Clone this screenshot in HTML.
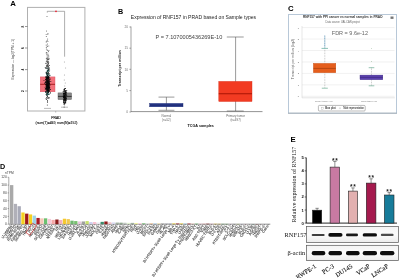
<!DOCTYPE html>
<html><head><meta charset="utf-8"><style>
html,body{margin:0;padding:0;background:#fff;}
svg{display:block;will-change:transform;}
</style></head><body>
<svg width="400" height="278" viewBox="0 0 400 278">
<rect width="400" height="278" fill="#fff"/>
<text x="10.3" y="6.3" font-family="Liberation Sans, sans-serif" font-weight="bold" font-size="7.8">A</text>
<rect x="27.5" y="7.4" width="57.4" height="103.6" fill="none" stroke="#b0b0b0" stroke-width="1"/>
<line x1="55.7" y1="111" x2="55.7" y2="112.6" stroke="#888" stroke-width="0.5"/>
<line x1="25" y1="26.5" x2="27.5" y2="26.5" stroke="#555" stroke-width="0.6"/>
<text transform="translate(23.6,26.5) rotate(-90)" text-anchor="middle" font-family="Liberation Sans, sans-serif" font-weight="bold" font-size="3.2" fill="#222">8</text>
<line x1="25" y1="48" x2="27.5" y2="48" stroke="#555" stroke-width="0.6"/>
<text transform="translate(23.6,48) rotate(-90)" text-anchor="middle" font-family="Liberation Sans, sans-serif" font-weight="bold" font-size="3.2" fill="#222">6</text>
<line x1="25" y1="69.6" x2="27.5" y2="69.6" stroke="#555" stroke-width="0.6"/>
<text transform="translate(23.6,69.6) rotate(-90)" text-anchor="middle" font-family="Liberation Sans, sans-serif" font-weight="bold" font-size="3.2" fill="#222">4</text>
<line x1="25" y1="91" x2="27.5" y2="91" stroke="#555" stroke-width="0.6"/>
<text transform="translate(23.6,91) rotate(-90)" text-anchor="middle" font-family="Liberation Sans, sans-serif" font-weight="bold" font-size="3.2" fill="#222">2</text>
<text transform="translate(13.6,59.2) rotate(-90)" text-anchor="middle" font-family="Liberation Sans, sans-serif" font-size="3.15" fill="#333">Expression — log2(TPM + 1)</text>
<polyline points="47.3,12.6 47.3,11.3 64.6,11.3 64.6,56.7" fill="none" stroke="#777" stroke-width="0.6"/>
<circle cx="56" cy="11.3" r="0.9" fill="#e23"/>
<rect x="40.2" y="76.9" width="14.8" height="14.9" fill="#f2707a" stroke="#d85060" stroke-width="0.4"/>
<line x1="40.2" y1="84.3" x2="55" y2="84.3" stroke="#a01818" stroke-width="0.9"/>
<line x1="44" y1="108.4" x2="51" y2="108.4" stroke="#777" stroke-width="0.5"/>
<rect x="58" y="92.9" width="13.6" height="6.7" fill="#888" stroke="#555" stroke-width="0.4"/>
<line x1="58" y1="96.4" x2="71.6" y2="96.4" stroke="#222" stroke-width="0.8"/>
<line x1="61" y1="107.2" x2="68" y2="107.2" stroke="#777" stroke-width="0.5"/>
<circle cx="47.01" cy="16.50" r="0.5" fill="#444" fill-opacity="0.85"/>
<circle cx="46.52" cy="31.00" r="0.5" fill="#444" fill-opacity="0.85"/>
<circle cx="47.92" cy="33.50" r="0.5" fill="#444" fill-opacity="0.85"/>
<circle cx="46.30" cy="36.50" r="0.5" fill="#444" fill-opacity="0.85"/>
<circle cx="47.60" cy="39.00" r="0.5" fill="#444" fill-opacity="0.85"/>
<circle cx="47.12" cy="40.50" r="0.5" fill="#444" fill-opacity="0.85"/>
<circle cx="46.26" cy="42.00" r="0.5" fill="#444" fill-opacity="0.85"/>
<circle cx="47.52" cy="44.00" r="0.5" fill="#444" fill-opacity="0.85"/>
<circle cx="46.20" cy="45.00" r="0.5" fill="#444" fill-opacity="0.85"/>
<circle cx="47.31" cy="46.50" r="0.5" fill="#444" fill-opacity="0.85"/>
<circle cx="46.30" cy="47.50" r="0.5" fill="#444" fill-opacity="0.85"/>
<circle cx="46.35" cy="49.00" r="0.5" fill="#444" fill-opacity="0.85"/>
<circle cx="47.29" cy="50.00" r="0.5" fill="#444" fill-opacity="0.85"/>
<circle cx="48.42" cy="51.50" r="0.5" fill="#444" fill-opacity="0.85"/>
<circle cx="46.45" cy="52.50" r="0.5" fill="#444" fill-opacity="0.85"/>
<circle cx="46.73" cy="54.00" r="0.5" fill="#444" fill-opacity="0.85"/>
<circle cx="47.86" cy="55.00" r="0.5" fill="#444" fill-opacity="0.85"/>
<circle cx="48.75" cy="56.00" r="0.5" fill="#444" fill-opacity="0.85"/>
<circle cx="47.72" cy="57.00" r="0.5" fill="#444" fill-opacity="0.85"/>
<circle cx="47.21" cy="58.50" r="0.5" fill="#444" fill-opacity="0.85"/>
<circle cx="48.83" cy="59.50" r="0.5" fill="#444" fill-opacity="0.85"/>
<circle cx="47.92" cy="89.14" r="0.5" fill="#0a0a0a" fill-opacity="0.85"/>
<circle cx="46.91" cy="87.55" r="0.5" fill="#0a0a0a" fill-opacity="0.85"/>
<circle cx="46.60" cy="99.46" r="0.5" fill="#0a0a0a" fill-opacity="0.85"/>
<circle cx="46.68" cy="77.70" r="0.5" fill="#0a0a0a" fill-opacity="0.85"/>
<circle cx="48.26" cy="92.15" r="0.5" fill="#0a0a0a" fill-opacity="0.85"/>
<circle cx="46.78" cy="86.24" r="0.5" fill="#0a0a0a" fill-opacity="0.85"/>
<circle cx="46.61" cy="87.43" r="0.5" fill="#0a0a0a" fill-opacity="0.85"/>
<circle cx="47.03" cy="78.94" r="0.5" fill="#0a0a0a" fill-opacity="0.85"/>
<circle cx="48.97" cy="84.44" r="0.5" fill="#0a0a0a" fill-opacity="0.85"/>
<circle cx="47.26" cy="65.87" r="0.5" fill="#0a0a0a" fill-opacity="0.85"/>
<circle cx="46.74" cy="83.04" r="0.5" fill="#0a0a0a" fill-opacity="0.85"/>
<circle cx="47.53" cy="88.48" r="0.5" fill="#0a0a0a" fill-opacity="0.85"/>
<circle cx="48.47" cy="70.82" r="0.5" fill="#1f5a55" fill-opacity="0.85"/>
<circle cx="47.62" cy="81.46" r="0.5" fill="#0a0a0a" fill-opacity="0.85"/>
<circle cx="46.04" cy="76.48" r="0.5" fill="#0a0a0a" fill-opacity="0.85"/>
<circle cx="46.96" cy="89.54" r="0.5" fill="#0a0a0a" fill-opacity="0.85"/>
<circle cx="46.27" cy="79.93" r="0.5" fill="#0a0a0a" fill-opacity="0.85"/>
<circle cx="47.04" cy="75.29" r="0.5" fill="#0a0a0a" fill-opacity="0.85"/>
<circle cx="47.29" cy="93.59" r="0.5" fill="#1f5a55" fill-opacity="0.85"/>
<circle cx="46.15" cy="80.10" r="0.5" fill="#0a0a0a" fill-opacity="0.85"/>
<circle cx="47.54" cy="100.70" r="0.5" fill="#0a0a0a" fill-opacity="0.85"/>
<circle cx="48.63" cy="73.92" r="0.5" fill="#1f5a55" fill-opacity="0.85"/>
<circle cx="47.75" cy="78.70" r="0.5" fill="#0a0a0a" fill-opacity="0.85"/>
<circle cx="47.85" cy="86.33" r="0.5" fill="#0a0a0a" fill-opacity="0.85"/>
<circle cx="47.05" cy="84.54" r="0.5" fill="#0a0a0a" fill-opacity="0.85"/>
<circle cx="48.65" cy="84.13" r="0.5" fill="#0a0a0a" fill-opacity="0.85"/>
<circle cx="47.29" cy="86.55" r="0.5" fill="#0a0a0a" fill-opacity="0.85"/>
<circle cx="48.02" cy="73.21" r="0.5" fill="#0a0a0a" fill-opacity="0.85"/>
<circle cx="45.70" cy="91.58" r="0.5" fill="#1f5a55" fill-opacity="0.85"/>
<circle cx="48.10" cy="76.69" r="0.5" fill="#0a0a0a" fill-opacity="0.85"/>
<circle cx="47.44" cy="88.97" r="0.5" fill="#0a0a0a" fill-opacity="0.85"/>
<circle cx="48.28" cy="86.92" r="0.5" fill="#0a0a0a" fill-opacity="0.85"/>
<circle cx="48.80" cy="85.08" r="0.5" fill="#0a0a0a" fill-opacity="0.85"/>
<circle cx="47.16" cy="78.05" r="0.5" fill="#0a0a0a" fill-opacity="0.85"/>
<circle cx="47.62" cy="93.38" r="0.5" fill="#0a0a0a" fill-opacity="0.85"/>
<circle cx="46.43" cy="80.00" r="0.5" fill="#0a0a0a" fill-opacity="0.85"/>
<circle cx="49.72" cy="74.90" r="0.5" fill="#0a0a0a" fill-opacity="0.85"/>
<circle cx="48.92" cy="90.42" r="0.5" fill="#0a0a0a" fill-opacity="0.85"/>
<circle cx="46.77" cy="72.59" r="0.5" fill="#1f5a55" fill-opacity="0.85"/>
<circle cx="47.35" cy="89.68" r="0.5" fill="#0a0a0a" fill-opacity="0.85"/>
<circle cx="48.26" cy="81.59" r="0.5" fill="#0a0a0a" fill-opacity="0.85"/>
<circle cx="48.10" cy="86.53" r="0.5" fill="#0a0a0a" fill-opacity="0.85"/>
<circle cx="47.62" cy="90.99" r="0.5" fill="#0a0a0a" fill-opacity="0.85"/>
<circle cx="47.88" cy="84.06" r="0.5" fill="#0a0a0a" fill-opacity="0.85"/>
<circle cx="47.44" cy="87.39" r="0.5" fill="#0a0a0a" fill-opacity="0.85"/>
<circle cx="48.62" cy="85.55" r="0.5" fill="#0a0a0a" fill-opacity="0.85"/>
<circle cx="48.08" cy="75.18" r="0.5" fill="#1f5a55" fill-opacity="0.85"/>
<circle cx="47.25" cy="89.51" r="0.5" fill="#0a0a0a" fill-opacity="0.85"/>
<circle cx="49.53" cy="87.47" r="0.5" fill="#0a0a0a" fill-opacity="0.85"/>
<circle cx="46.42" cy="60.92" r="0.5" fill="#0a0a0a" fill-opacity="0.85"/>
<circle cx="48.02" cy="86.20" r="0.5" fill="#0a0a0a" fill-opacity="0.85"/>
<circle cx="47.15" cy="86.15" r="0.5" fill="#0a0a0a" fill-opacity="0.85"/>
<circle cx="47.90" cy="89.90" r="0.5" fill="#0a0a0a" fill-opacity="0.85"/>
<circle cx="50.15" cy="79.30" r="0.5" fill="#0a0a0a" fill-opacity="0.85"/>
<circle cx="47.02" cy="87.20" r="0.5" fill="#0a0a0a" fill-opacity="0.85"/>
<circle cx="47.36" cy="83.10" r="0.5" fill="#0a0a0a" fill-opacity="0.85"/>
<circle cx="44.74" cy="83.44" r="0.5" fill="#0a0a0a" fill-opacity="0.85"/>
<circle cx="48.66" cy="79.62" r="0.5" fill="#0a0a0a" fill-opacity="0.85"/>
<circle cx="47.53" cy="73.48" r="0.5" fill="#1f5a55" fill-opacity="0.85"/>
<circle cx="45.81" cy="92.58" r="0.5" fill="#1f5a55" fill-opacity="0.85"/>
<circle cx="47.92" cy="80.82" r="0.5" fill="#0a0a0a" fill-opacity="0.85"/>
<circle cx="47.55" cy="70.97" r="0.5" fill="#0a0a0a" fill-opacity="0.85"/>
<circle cx="47.44" cy="77.56" r="0.5" fill="#0a0a0a" fill-opacity="0.85"/>
<circle cx="48.44" cy="85.72" r="0.5" fill="#0a0a0a" fill-opacity="0.85"/>
<circle cx="47.51" cy="85.27" r="0.5" fill="#0a0a0a" fill-opacity="0.85"/>
<circle cx="48.40" cy="63.99" r="0.5" fill="#0a0a0a" fill-opacity="0.85"/>
<circle cx="47.74" cy="82.32" r="0.5" fill="#0a0a0a" fill-opacity="0.85"/>
<circle cx="47.83" cy="90.35" r="0.5" fill="#0a0a0a" fill-opacity="0.85"/>
<circle cx="46.00" cy="89.75" r="0.5" fill="#0a0a0a" fill-opacity="0.85"/>
<circle cx="48.25" cy="70.41" r="0.5" fill="#0a0a0a" fill-opacity="0.85"/>
<circle cx="47.74" cy="75.33" r="0.5" fill="#0a0a0a" fill-opacity="0.85"/>
<circle cx="49.15" cy="80.39" r="0.5" fill="#0a0a0a" fill-opacity="0.85"/>
<circle cx="47.60" cy="75.56" r="0.5" fill="#1f5a55" fill-opacity="0.85"/>
<circle cx="47.83" cy="73.74" r="0.5" fill="#0a0a0a" fill-opacity="0.85"/>
<circle cx="48.64" cy="76.15" r="0.5" fill="#1f5a55" fill-opacity="0.85"/>
<circle cx="49.19" cy="82.40" r="0.5" fill="#0a0a0a" fill-opacity="0.85"/>
<circle cx="47.86" cy="79.26" r="0.5" fill="#0a0a0a" fill-opacity="0.85"/>
<circle cx="48.93" cy="88.11" r="0.5" fill="#0a0a0a" fill-opacity="0.85"/>
<circle cx="48.67" cy="77.30" r="0.5" fill="#0a0a0a" fill-opacity="0.85"/>
<circle cx="47.73" cy="85.04" r="0.5" fill="#0a0a0a" fill-opacity="0.85"/>
<circle cx="48.62" cy="81.63" r="0.5" fill="#0a0a0a" fill-opacity="0.85"/>
<circle cx="48.96" cy="80.11" r="0.5" fill="#0a0a0a" fill-opacity="0.85"/>
<circle cx="47.79" cy="71.85" r="0.5" fill="#1f5a55" fill-opacity="0.85"/>
<circle cx="47.68" cy="90.65" r="0.5" fill="#0a0a0a" fill-opacity="0.85"/>
<circle cx="47.23" cy="95.94" r="0.5" fill="#0a0a0a" fill-opacity="0.85"/>
<circle cx="46.89" cy="86.32" r="0.5" fill="#0a0a0a" fill-opacity="0.85"/>
<circle cx="45.63" cy="91.92" r="0.5" fill="#0a0a0a" fill-opacity="0.85"/>
<circle cx="48.68" cy="74.25" r="0.5" fill="#0a0a0a" fill-opacity="0.85"/>
<circle cx="47.40" cy="78.75" r="0.5" fill="#0a0a0a" fill-opacity="0.85"/>
<circle cx="46.98" cy="83.74" r="0.5" fill="#0a0a0a" fill-opacity="0.85"/>
<circle cx="49.48" cy="86.10" r="0.5" fill="#0a0a0a" fill-opacity="0.85"/>
<circle cx="48.16" cy="84.40" r="0.5" fill="#0a0a0a" fill-opacity="0.85"/>
<circle cx="46.93" cy="93.00" r="0.5" fill="#0a0a0a" fill-opacity="0.85"/>
<circle cx="45.87" cy="81.22" r="0.5" fill="#0a0a0a" fill-opacity="0.85"/>
<circle cx="48.66" cy="78.62" r="0.5" fill="#0a0a0a" fill-opacity="0.85"/>
<circle cx="47.61" cy="91.13" r="0.5" fill="#0a0a0a" fill-opacity="0.85"/>
<circle cx="46.25" cy="91.25" r="0.5" fill="#0a0a0a" fill-opacity="0.85"/>
<circle cx="48.57" cy="83.44" r="0.5" fill="#0a0a0a" fill-opacity="0.85"/>
<circle cx="46.65" cy="78.91" r="0.5" fill="#0a0a0a" fill-opacity="0.85"/>
<circle cx="45.99" cy="77.06" r="0.5" fill="#0a0a0a" fill-opacity="0.85"/>
<circle cx="46.36" cy="82.94" r="0.5" fill="#0a0a0a" fill-opacity="0.85"/>
<circle cx="45.12" cy="87.28" r="0.5" fill="#0a0a0a" fill-opacity="0.85"/>
<circle cx="46.93" cy="86.95" r="0.5" fill="#0a0a0a" fill-opacity="0.85"/>
<circle cx="48.36" cy="66.52" r="0.5" fill="#0a0a0a" fill-opacity="0.85"/>
<circle cx="49.48" cy="81.52" r="0.5" fill="#0a0a0a" fill-opacity="0.85"/>
<circle cx="47.95" cy="77.99" r="0.5" fill="#0a0a0a" fill-opacity="0.85"/>
<circle cx="47.22" cy="87.48" r="0.5" fill="#0a0a0a" fill-opacity="0.85"/>
<circle cx="47.62" cy="85.24" r="0.5" fill="#0a0a0a" fill-opacity="0.85"/>
<circle cx="46.71" cy="87.50" r="0.5" fill="#0a0a0a" fill-opacity="0.85"/>
<circle cx="48.09" cy="70.22" r="0.5" fill="#0a0a0a" fill-opacity="0.85"/>
<circle cx="47.29" cy="80.86" r="0.5" fill="#0a0a0a" fill-opacity="0.85"/>
<circle cx="49.64" cy="79.77" r="0.5" fill="#0a0a0a" fill-opacity="0.85"/>
<circle cx="48.09" cy="68.18" r="0.5" fill="#1f5a55" fill-opacity="0.85"/>
<circle cx="47.50" cy="100.98" r="0.5" fill="#0a0a0a" fill-opacity="0.85"/>
<circle cx="48.13" cy="74.15" r="0.5" fill="#1f5a55" fill-opacity="0.85"/>
<circle cx="48.47" cy="86.64" r="0.5" fill="#0a0a0a" fill-opacity="0.85"/>
<circle cx="47.39" cy="83.69" r="0.5" fill="#0a0a0a" fill-opacity="0.85"/>
<circle cx="47.22" cy="74.86" r="0.5" fill="#1f5a55" fill-opacity="0.85"/>
<circle cx="48.88" cy="77.83" r="0.5" fill="#0a0a0a" fill-opacity="0.85"/>
<circle cx="47.57" cy="80.73" r="0.5" fill="#0a0a0a" fill-opacity="0.85"/>
<circle cx="48.25" cy="82.52" r="0.5" fill="#0a0a0a" fill-opacity="0.85"/>
<circle cx="49.37" cy="88.33" r="0.5" fill="#0a0a0a" fill-opacity="0.85"/>
<circle cx="47.53" cy="87.85" r="0.5" fill="#0a0a0a" fill-opacity="0.85"/>
<circle cx="45.56" cy="88.70" r="0.5" fill="#0a0a0a" fill-opacity="0.85"/>
<circle cx="47.58" cy="93.30" r="0.5" fill="#0a0a0a" fill-opacity="0.85"/>
<circle cx="46.13" cy="89.11" r="0.5" fill="#0a0a0a" fill-opacity="0.85"/>
<circle cx="47.91" cy="78.00" r="0.5" fill="#0a0a0a" fill-opacity="0.85"/>
<circle cx="47.18" cy="85.65" r="0.5" fill="#0a0a0a" fill-opacity="0.85"/>
<circle cx="49.83" cy="75.23" r="0.5" fill="#0a0a0a" fill-opacity="0.85"/>
<circle cx="48.96" cy="93.34" r="0.5" fill="#1f5a55" fill-opacity="0.85"/>
<circle cx="46.68" cy="92.90" r="0.5" fill="#0a0a0a" fill-opacity="0.85"/>
<circle cx="48.34" cy="86.35" r="0.5" fill="#0a0a0a" fill-opacity="0.85"/>
<circle cx="48.48" cy="80.84" r="0.5" fill="#0a0a0a" fill-opacity="0.85"/>
<circle cx="47.64" cy="91.99" r="0.5" fill="#1f5a55" fill-opacity="0.85"/>
<circle cx="48.27" cy="88.32" r="0.5" fill="#0a0a0a" fill-opacity="0.85"/>
<circle cx="47.26" cy="85.88" r="0.5" fill="#0a0a0a" fill-opacity="0.85"/>
<circle cx="47.65" cy="91.10" r="0.5" fill="#0a0a0a" fill-opacity="0.85"/>
<circle cx="48.02" cy="76.57" r="0.5" fill="#1f5a55" fill-opacity="0.85"/>
<circle cx="47.60" cy="91.47" r="0.5" fill="#0a0a0a" fill-opacity="0.85"/>
<circle cx="46.95" cy="85.58" r="0.5" fill="#0a0a0a" fill-opacity="0.85"/>
<circle cx="45.18" cy="82.16" r="0.5" fill="#0a0a0a" fill-opacity="0.85"/>
<circle cx="49.12" cy="87.32" r="0.5" fill="#0a0a0a" fill-opacity="0.85"/>
<circle cx="46.08" cy="94.30" r="0.5" fill="#1f5a55" fill-opacity="0.85"/>
<circle cx="46.00" cy="84.54" r="0.5" fill="#0a0a0a" fill-opacity="0.85"/>
<circle cx="48.56" cy="83.42" r="0.5" fill="#0a0a0a" fill-opacity="0.85"/>
<circle cx="48.41" cy="83.09" r="0.5" fill="#0a0a0a" fill-opacity="0.85"/>
<circle cx="46.90" cy="71.75" r="0.5" fill="#1f5a55" fill-opacity="0.85"/>
<circle cx="48.12" cy="77.09" r="0.5" fill="#0a0a0a" fill-opacity="0.85"/>
<circle cx="49.16" cy="85.59" r="0.5" fill="#0a0a0a" fill-opacity="0.85"/>
<circle cx="47.58" cy="90.36" r="0.5" fill="#0a0a0a" fill-opacity="0.85"/>
<circle cx="49.34" cy="89.37" r="0.5" fill="#0a0a0a" fill-opacity="0.85"/>
<circle cx="47.19" cy="92.74" r="0.5" fill="#1f5a55" fill-opacity="0.85"/>
<circle cx="47.29" cy="77.57" r="0.5" fill="#0a0a0a" fill-opacity="0.85"/>
<circle cx="47.01" cy="93.62" r="0.5" fill="#0a0a0a" fill-opacity="0.85"/>
<circle cx="48.90" cy="86.35" r="0.5" fill="#0a0a0a" fill-opacity="0.85"/>
<circle cx="47.70" cy="82.06" r="0.5" fill="#0a0a0a" fill-opacity="0.85"/>
<circle cx="47.64" cy="83.74" r="0.5" fill="#0a0a0a" fill-opacity="0.85"/>
<circle cx="48.41" cy="76.49" r="0.5" fill="#0a0a0a" fill-opacity="0.85"/>
<circle cx="48.79" cy="87.23" r="0.5" fill="#0a0a0a" fill-opacity="0.85"/>
<circle cx="47.63" cy="91.05" r="0.5" fill="#1f5a55" fill-opacity="0.85"/>
<circle cx="47.78" cy="81.88" r="0.5" fill="#0a0a0a" fill-opacity="0.85"/>
<circle cx="47.73" cy="91.59" r="0.5" fill="#1f5a55" fill-opacity="0.85"/>
<circle cx="46.94" cy="74.51" r="0.5" fill="#0a0a0a" fill-opacity="0.85"/>
<circle cx="46.21" cy="76.16" r="0.5" fill="#0a0a0a" fill-opacity="0.85"/>
<circle cx="48.20" cy="77.85" r="0.5" fill="#0a0a0a" fill-opacity="0.85"/>
<circle cx="47.54" cy="89.10" r="0.5" fill="#0a0a0a" fill-opacity="0.85"/>
<circle cx="46.11" cy="81.91" r="0.5" fill="#0a0a0a" fill-opacity="0.85"/>
<circle cx="46.41" cy="88.64" r="0.5" fill="#0a0a0a" fill-opacity="0.85"/>
<circle cx="47.82" cy="73.49" r="0.5" fill="#0a0a0a" fill-opacity="0.85"/>
<circle cx="45.61" cy="79.44" r="0.5" fill="#0a0a0a" fill-opacity="0.85"/>
<circle cx="48.26" cy="83.53" r="0.5" fill="#0a0a0a" fill-opacity="0.85"/>
<circle cx="45.68" cy="68.14" r="0.5" fill="#0a0a0a" fill-opacity="0.85"/>
<circle cx="47.34" cy="74.41" r="0.5" fill="#1f5a55" fill-opacity="0.85"/>
<circle cx="48.27" cy="77.90" r="0.5" fill="#0a0a0a" fill-opacity="0.85"/>
<circle cx="49.18" cy="90.32" r="0.5" fill="#0a0a0a" fill-opacity="0.85"/>
<circle cx="46.82" cy="94.48" r="0.5" fill="#0a0a0a" fill-opacity="0.85"/>
<circle cx="47.51" cy="74.92" r="0.5" fill="#0a0a0a" fill-opacity="0.85"/>
<circle cx="47.59" cy="84.05" r="0.5" fill="#0a0a0a" fill-opacity="0.85"/>
<circle cx="46.10" cy="73.36" r="0.5" fill="#1f5a55" fill-opacity="0.85"/>
<circle cx="47.53" cy="81.10" r="0.5" fill="#0a0a0a" fill-opacity="0.85"/>
<circle cx="48.34" cy="77.16" r="0.5" fill="#0a0a0a" fill-opacity="0.85"/>
<circle cx="47.51" cy="87.19" r="0.5" fill="#0a0a0a" fill-opacity="0.85"/>
<circle cx="47.42" cy="77.95" r="0.5" fill="#0a0a0a" fill-opacity="0.85"/>
<circle cx="47.64" cy="75.17" r="0.5" fill="#1f5a55" fill-opacity="0.85"/>
<circle cx="45.96" cy="77.78" r="0.5" fill="#0a0a0a" fill-opacity="0.85"/>
<circle cx="46.59" cy="74.42" r="0.5" fill="#1f5a55" fill-opacity="0.85"/>
<circle cx="48.24" cy="88.14" r="0.5" fill="#0a0a0a" fill-opacity="0.85"/>
<circle cx="46.71" cy="83.67" r="0.5" fill="#0a0a0a" fill-opacity="0.85"/>
<circle cx="47.53" cy="82.70" r="0.5" fill="#0a0a0a" fill-opacity="0.85"/>
<circle cx="47.91" cy="90.61" r="0.5" fill="#0a0a0a" fill-opacity="0.85"/>
<circle cx="46.18" cy="77.50" r="0.5" fill="#0a0a0a" fill-opacity="0.85"/>
<circle cx="46.82" cy="80.64" r="0.5" fill="#0a0a0a" fill-opacity="0.85"/>
<circle cx="47.48" cy="73.99" r="0.5" fill="#1f5a55" fill-opacity="0.85"/>
<circle cx="48.75" cy="98.01" r="0.5" fill="#0a0a0a" fill-opacity="0.85"/>
<circle cx="47.34" cy="104.92" r="0.5" fill="#0a0a0a" fill-opacity="0.85"/>
<circle cx="48.10" cy="67.89" r="0.5" fill="#0a0a0a" fill-opacity="0.85"/>
<circle cx="47.86" cy="77.24" r="0.5" fill="#0a0a0a" fill-opacity="0.85"/>
<circle cx="50.05" cy="89.42" r="0.5" fill="#0a0a0a" fill-opacity="0.85"/>
<circle cx="48.94" cy="86.90" r="0.5" fill="#0a0a0a" fill-opacity="0.85"/>
<circle cx="48.59" cy="90.90" r="0.5" fill="#0a0a0a" fill-opacity="0.85"/>
<circle cx="47.44" cy="88.59" r="0.5" fill="#0a0a0a" fill-opacity="0.85"/>
<circle cx="46.47" cy="88.58" r="0.5" fill="#0a0a0a" fill-opacity="0.85"/>
<circle cx="46.79" cy="94.63" r="0.5" fill="#0a0a0a" fill-opacity="0.85"/>
<circle cx="47.62" cy="81.99" r="0.5" fill="#0a0a0a" fill-opacity="0.85"/>
<circle cx="47.62" cy="94.47" r="0.5" fill="#1f5a55" fill-opacity="0.85"/>
<circle cx="48.35" cy="89.24" r="0.5" fill="#0a0a0a" fill-opacity="0.85"/>
<circle cx="49.44" cy="77.05" r="0.5" fill="#0a0a0a" fill-opacity="0.85"/>
<circle cx="49.35" cy="84.16" r="0.5" fill="#0a0a0a" fill-opacity="0.85"/>
<circle cx="47.10" cy="90.07" r="0.5" fill="#0a0a0a" fill-opacity="0.85"/>
<circle cx="48.35" cy="77.75" r="0.5" fill="#0a0a0a" fill-opacity="0.85"/>
<circle cx="47.59" cy="96.00" r="0.5" fill="#0a0a0a" fill-opacity="0.85"/>
<circle cx="47.93" cy="83.55" r="0.5" fill="#0a0a0a" fill-opacity="0.85"/>
<circle cx="48.51" cy="97.71" r="0.5" fill="#0a0a0a" fill-opacity="0.85"/>
<circle cx="47.29" cy="90.27" r="0.5" fill="#0a0a0a" fill-opacity="0.85"/>
<circle cx="48.85" cy="82.94" r="0.5" fill="#0a0a0a" fill-opacity="0.85"/>
<circle cx="48.54" cy="87.21" r="0.5" fill="#0a0a0a" fill-opacity="0.85"/>
<circle cx="46.02" cy="78.92" r="0.5" fill="#0a0a0a" fill-opacity="0.85"/>
<circle cx="48.83" cy="69.41" r="0.5" fill="#0a0a0a" fill-opacity="0.85"/>
<circle cx="49.22" cy="79.86" r="0.5" fill="#0a0a0a" fill-opacity="0.85"/>
<circle cx="45.93" cy="88.47" r="0.5" fill="#0a0a0a" fill-opacity="0.85"/>
<circle cx="47.07" cy="88.57" r="0.5" fill="#0a0a0a" fill-opacity="0.85"/>
<circle cx="49.89" cy="78.17" r="0.5" fill="#0a0a0a" fill-opacity="0.85"/>
<circle cx="48.43" cy="90.23" r="0.5" fill="#0a0a0a" fill-opacity="0.85"/>
<circle cx="47.11" cy="91.30" r="0.5" fill="#0a0a0a" fill-opacity="0.85"/>
<circle cx="48.41" cy="90.29" r="0.5" fill="#0a0a0a" fill-opacity="0.85"/>
<circle cx="47.11" cy="82.96" r="0.5" fill="#0a0a0a" fill-opacity="0.85"/>
<circle cx="46.62" cy="77.68" r="0.5" fill="#0a0a0a" fill-opacity="0.85"/>
<circle cx="47.91" cy="80.82" r="0.5" fill="#0a0a0a" fill-opacity="0.85"/>
<circle cx="48.20" cy="88.64" r="0.5" fill="#0a0a0a" fill-opacity="0.85"/>
<circle cx="49.84" cy="87.67" r="0.5" fill="#0a0a0a" fill-opacity="0.85"/>
<circle cx="47.58" cy="93.84" r="0.5" fill="#1f5a55" fill-opacity="0.85"/>
<circle cx="48.12" cy="90.93" r="0.5" fill="#0a0a0a" fill-opacity="0.85"/>
<circle cx="48.02" cy="89.59" r="0.5" fill="#0a0a0a" fill-opacity="0.85"/>
<circle cx="48.96" cy="83.39" r="0.5" fill="#0a0a0a" fill-opacity="0.85"/>
<circle cx="46.73" cy="95.37" r="0.5" fill="#0a0a0a" fill-opacity="0.85"/>
<circle cx="47.45" cy="75.35" r="0.5" fill="#1f5a55" fill-opacity="0.85"/>
<circle cx="47.92" cy="90.71" r="0.5" fill="#0a0a0a" fill-opacity="0.85"/>
<circle cx="47.49" cy="88.57" r="0.5" fill="#0a0a0a" fill-opacity="0.85"/>
<circle cx="47.57" cy="71.32" r="0.5" fill="#0a0a0a" fill-opacity="0.85"/>
<circle cx="48.42" cy="85.52" r="0.5" fill="#0a0a0a" fill-opacity="0.85"/>
<circle cx="48.66" cy="84.09" r="0.5" fill="#0a0a0a" fill-opacity="0.85"/>
<circle cx="48.47" cy="62.95" r="0.5" fill="#0a0a0a" fill-opacity="0.85"/>
<circle cx="46.28" cy="94.62" r="0.5" fill="#1f5a55" fill-opacity="0.85"/>
<circle cx="45.44" cy="79.18" r="0.5" fill="#0a0a0a" fill-opacity="0.85"/>
<circle cx="47.83" cy="72.20" r="0.5" fill="#1f5a55" fill-opacity="0.85"/>
<circle cx="49.11" cy="68.02" r="0.5" fill="#0a0a0a" fill-opacity="0.85"/>
<circle cx="45.91" cy="98.82" r="0.5" fill="#0a0a0a" fill-opacity="0.85"/>
<circle cx="47.98" cy="88.04" r="0.5" fill="#0a0a0a" fill-opacity="0.85"/>
<circle cx="47.38" cy="70.51" r="0.5" fill="#0a0a0a" fill-opacity="0.85"/>
<circle cx="46.11" cy="81.70" r="0.5" fill="#0a0a0a" fill-opacity="0.85"/>
<circle cx="46.44" cy="84.92" r="0.5" fill="#0a0a0a" fill-opacity="0.85"/>
<circle cx="47.51" cy="81.58" r="0.5" fill="#0a0a0a" fill-opacity="0.85"/>
<circle cx="46.85" cy="85.32" r="0.5" fill="#0a0a0a" fill-opacity="0.85"/>
<circle cx="47.04" cy="95.36" r="0.5" fill="#1f5a55" fill-opacity="0.85"/>
<circle cx="49.09" cy="83.86" r="0.5" fill="#0a0a0a" fill-opacity="0.85"/>
<circle cx="47.11" cy="82.61" r="0.5" fill="#0a0a0a" fill-opacity="0.85"/>
<circle cx="48.02" cy="93.92" r="0.5" fill="#1f5a55" fill-opacity="0.85"/>
<circle cx="49.00" cy="86.02" r="0.5" fill="#0a0a0a" fill-opacity="0.85"/>
<circle cx="47.66" cy="91.61" r="0.5" fill="#0a0a0a" fill-opacity="0.85"/>
<circle cx="46.84" cy="80.70" r="0.5" fill="#0a0a0a" fill-opacity="0.85"/>
<circle cx="47.65" cy="85.02" r="0.5" fill="#0a0a0a" fill-opacity="0.85"/>
<circle cx="47.81" cy="83.33" r="0.5" fill="#0a0a0a" fill-opacity="0.85"/>
<circle cx="47.62" cy="70.52" r="0.5" fill="#1f5a55" fill-opacity="0.85"/>
<circle cx="49.16" cy="83.39" r="0.5" fill="#0a0a0a" fill-opacity="0.85"/>
<circle cx="47.26" cy="89.75" r="0.5" fill="#0a0a0a" fill-opacity="0.85"/>
<circle cx="47.80" cy="91.99" r="0.5" fill="#0a0a0a" fill-opacity="0.85"/>
<circle cx="46.96" cy="81.54" r="0.5" fill="#0a0a0a" fill-opacity="0.85"/>
<circle cx="45.95" cy="88.30" r="0.5" fill="#0a0a0a" fill-opacity="0.85"/>
<circle cx="47.58" cy="77.90" r="0.5" fill="#0a0a0a" fill-opacity="0.85"/>
<circle cx="47.43" cy="91.64" r="0.5" fill="#0a0a0a" fill-opacity="0.85"/>
<circle cx="48.34" cy="84.77" r="0.5" fill="#0a0a0a" fill-opacity="0.85"/>
<circle cx="46.72" cy="84.49" r="0.5" fill="#0a0a0a" fill-opacity="0.85"/>
<circle cx="47.32" cy="94.06" r="0.5" fill="#1f5a55" fill-opacity="0.85"/>
<circle cx="48.37" cy="72.45" r="0.5" fill="#0a0a0a" fill-opacity="0.85"/>
<circle cx="48.44" cy="89.45" r="0.5" fill="#0a0a0a" fill-opacity="0.85"/>
<circle cx="50.36" cy="89.61" r="0.5" fill="#0a0a0a" fill-opacity="0.85"/>
<circle cx="47.87" cy="85.84" r="0.5" fill="#0a0a0a" fill-opacity="0.85"/>
<circle cx="47.99" cy="92.36" r="0.5" fill="#0a0a0a" fill-opacity="0.85"/>
<circle cx="43.98" cy="80.62" r="0.5" fill="#0a0a0a" fill-opacity="0.85"/>
<circle cx="47.21" cy="91.31" r="0.5" fill="#1f5a55" fill-opacity="0.85"/>
<circle cx="47.08" cy="97.71" r="0.5" fill="#0a0a0a" fill-opacity="0.85"/>
<circle cx="46.72" cy="79.50" r="0.5" fill="#0a0a0a" fill-opacity="0.85"/>
<circle cx="48.27" cy="78.33" r="0.5" fill="#0a0a0a" fill-opacity="0.85"/>
<circle cx="47.67" cy="84.33" r="0.5" fill="#0a0a0a" fill-opacity="0.85"/>
<circle cx="48.56" cy="82.44" r="0.5" fill="#0a0a0a" fill-opacity="0.85"/>
<circle cx="47.45" cy="88.45" r="0.5" fill="#0a0a0a" fill-opacity="0.85"/>
<circle cx="47.44" cy="89.98" r="0.5" fill="#0a0a0a" fill-opacity="0.85"/>
<circle cx="49.13" cy="73.62" r="0.5" fill="#0a0a0a" fill-opacity="0.85"/>
<circle cx="47.74" cy="81.39" r="0.5" fill="#0a0a0a" fill-opacity="0.85"/>
<circle cx="47.77" cy="75.43" r="0.5" fill="#0a0a0a" fill-opacity="0.85"/>
<circle cx="48.54" cy="87.00" r="0.5" fill="#0a0a0a" fill-opacity="0.85"/>
<circle cx="47.44" cy="85.78" r="0.5" fill="#0a0a0a" fill-opacity="0.85"/>
<circle cx="48.62" cy="70.07" r="0.5" fill="#0a0a0a" fill-opacity="0.85"/>
<circle cx="47.67" cy="86.32" r="0.5" fill="#0a0a0a" fill-opacity="0.85"/>
<circle cx="47.56" cy="91.75" r="0.5" fill="#1f5a55" fill-opacity="0.85"/>
<circle cx="47.23" cy="64.75" r="0.5" fill="#0a0a0a" fill-opacity="0.85"/>
<circle cx="49.26" cy="82.91" r="0.5" fill="#0a0a0a" fill-opacity="0.85"/>
<circle cx="48.37" cy="81.07" r="0.5" fill="#0a0a0a" fill-opacity="0.85"/>
<circle cx="45.92" cy="84.36" r="0.5" fill="#0a0a0a" fill-opacity="0.85"/>
<circle cx="48.36" cy="67.92" r="0.5" fill="#1f5a55" fill-opacity="0.85"/>
<circle cx="50.11" cy="85.00" r="0.5" fill="#0a0a0a" fill-opacity="0.85"/>
<circle cx="47.00" cy="78.01" r="0.5" fill="#0a0a0a" fill-opacity="0.85"/>
<circle cx="46.49" cy="88.48" r="0.5" fill="#0a0a0a" fill-opacity="0.85"/>
<circle cx="48.20" cy="88.47" r="0.5" fill="#0a0a0a" fill-opacity="0.85"/>
<circle cx="48.16" cy="81.50" r="0.5" fill="#0a0a0a" fill-opacity="0.85"/>
<circle cx="48.40" cy="70.06" r="0.5" fill="#0a0a0a" fill-opacity="0.85"/>
<circle cx="47.17" cy="70.10" r="0.5" fill="#1f5a55" fill-opacity="0.85"/>
<circle cx="47.69" cy="90.97" r="0.5" fill="#0a0a0a" fill-opacity="0.85"/>
<circle cx="48.17" cy="80.42" r="0.5" fill="#0a0a0a" fill-opacity="0.85"/>
<circle cx="47.79" cy="98.23" r="0.5" fill="#0a0a0a" fill-opacity="0.85"/>
<circle cx="46.72" cy="84.93" r="0.5" fill="#0a0a0a" fill-opacity="0.85"/>
<circle cx="49.76" cy="81.41" r="0.5" fill="#0a0a0a" fill-opacity="0.85"/>
<circle cx="48.42" cy="81.69" r="0.5" fill="#0a0a0a" fill-opacity="0.85"/>
<circle cx="48.01" cy="83.46" r="0.5" fill="#0a0a0a" fill-opacity="0.85"/>
<circle cx="45.95" cy="86.04" r="0.5" fill="#0a0a0a" fill-opacity="0.85"/>
<circle cx="46.88" cy="84.14" r="0.5" fill="#0a0a0a" fill-opacity="0.85"/>
<circle cx="46.33" cy="86.15" r="0.5" fill="#0a0a0a" fill-opacity="0.85"/>
<circle cx="46.80" cy="90.25" r="0.5" fill="#0a0a0a" fill-opacity="0.85"/>
<circle cx="48.49" cy="70.72" r="0.5" fill="#1f5a55" fill-opacity="0.85"/>
<circle cx="48.07" cy="73.09" r="0.5" fill="#0a0a0a" fill-opacity="0.85"/>
<circle cx="46.40" cy="77.68" r="0.5" fill="#0a0a0a" fill-opacity="0.85"/>
<circle cx="47.61" cy="94.55" r="0.5" fill="#1f5a55" fill-opacity="0.85"/>
<circle cx="48.63" cy="90.75" r="0.5" fill="#0a0a0a" fill-opacity="0.85"/>
<circle cx="47.11" cy="76.13" r="0.5" fill="#0a0a0a" fill-opacity="0.85"/>
<circle cx="47.82" cy="92.02" r="0.5" fill="#0a0a0a" fill-opacity="0.85"/>
<circle cx="48.31" cy="92.17" r="0.5" fill="#0a0a0a" fill-opacity="0.85"/>
<circle cx="47.45" cy="86.22" r="0.5" fill="#0a0a0a" fill-opacity="0.85"/>
<circle cx="48.11" cy="82.77" r="0.5" fill="#0a0a0a" fill-opacity="0.85"/>
<circle cx="50.22" cy="92.96" r="0.5" fill="#0a0a0a" fill-opacity="0.85"/>
<circle cx="49.11" cy="71.46" r="0.5" fill="#1f5a55" fill-opacity="0.85"/>
<circle cx="49.42" cy="83.02" r="0.5" fill="#0a0a0a" fill-opacity="0.85"/>
<circle cx="47.43" cy="88.01" r="0.5" fill="#0a0a0a" fill-opacity="0.85"/>
<circle cx="46.77" cy="73.70" r="0.5" fill="#1f5a55" fill-opacity="0.85"/>
<circle cx="48.03" cy="80.63" r="0.5" fill="#0a0a0a" fill-opacity="0.85"/>
<circle cx="48.37" cy="85.97" r="0.5" fill="#0a0a0a" fill-opacity="0.85"/>
<circle cx="46.71" cy="73.40" r="0.5" fill="#1f5a55" fill-opacity="0.85"/>
<circle cx="47.67" cy="91.99" r="0.5" fill="#0a0a0a" fill-opacity="0.85"/>
<circle cx="48.43" cy="87.09" r="0.5" fill="#0a0a0a" fill-opacity="0.85"/>
<circle cx="49.39" cy="88.63" r="0.5" fill="#0a0a0a" fill-opacity="0.85"/>
<circle cx="47.49" cy="80.89" r="0.5" fill="#0a0a0a" fill-opacity="0.85"/>
<circle cx="48.23" cy="91.26" r="0.5" fill="#0a0a0a" fill-opacity="0.85"/>
<circle cx="47.25" cy="81.48" r="0.5" fill="#0a0a0a" fill-opacity="0.85"/>
<circle cx="48.99" cy="91.16" r="0.5" fill="#0a0a0a" fill-opacity="0.85"/>
<circle cx="48.48" cy="82.40" r="0.5" fill="#0a0a0a" fill-opacity="0.85"/>
<circle cx="47.34" cy="91.45" r="0.5" fill="#0a0a0a" fill-opacity="0.85"/>
<circle cx="48.45" cy="78.17" r="0.5" fill="#0a0a0a" fill-opacity="0.85"/>
<circle cx="48.15" cy="61.13" r="0.5" fill="#0a0a0a" fill-opacity="0.85"/>
<circle cx="49.32" cy="97.73" r="0.5" fill="#0a0a0a" fill-opacity="0.85"/>
<circle cx="45.87" cy="84.72" r="0.5" fill="#0a0a0a" fill-opacity="0.85"/>
<circle cx="45.79" cy="91.69" r="0.5" fill="#0a0a0a" fill-opacity="0.85"/>
<circle cx="48.61" cy="94.36" r="0.5" fill="#0a0a0a" fill-opacity="0.85"/>
<circle cx="47.98" cy="85.06" r="0.5" fill="#0a0a0a" fill-opacity="0.85"/>
<circle cx="46.87" cy="81.91" r="0.5" fill="#0a0a0a" fill-opacity="0.85"/>
<circle cx="47.01" cy="77.98" r="0.5" fill="#0a0a0a" fill-opacity="0.85"/>
<circle cx="47.34" cy="83.86" r="0.5" fill="#0a0a0a" fill-opacity="0.85"/>
<circle cx="48.37" cy="92.10" r="0.5" fill="#0a0a0a" fill-opacity="0.85"/>
<circle cx="48.12" cy="85.52" r="0.5" fill="#0a0a0a" fill-opacity="0.85"/>
<circle cx="49.86" cy="75.42" r="0.5" fill="#1f5a55" fill-opacity="0.85"/>
<circle cx="48.80" cy="90.76" r="0.5" fill="#0a0a0a" fill-opacity="0.85"/>
<circle cx="47.88" cy="76.91" r="0.5" fill="#0a0a0a" fill-opacity="0.85"/>
<circle cx="47.79" cy="79.25" r="0.5" fill="#0a0a0a" fill-opacity="0.85"/>
<circle cx="47.84" cy="93.02" r="0.5" fill="#1f5a55" fill-opacity="0.85"/>
<circle cx="46.58" cy="78.97" r="0.5" fill="#0a0a0a" fill-opacity="0.85"/>
<circle cx="47.20" cy="90.40" r="0.5" fill="#0a0a0a" fill-opacity="0.85"/>
<circle cx="47.63" cy="87.08" r="0.5" fill="#0a0a0a" fill-opacity="0.85"/>
<circle cx="49.55" cy="86.95" r="0.5" fill="#0a0a0a" fill-opacity="0.85"/>
<circle cx="48.65" cy="88.08" r="0.5" fill="#0a0a0a" fill-opacity="0.85"/>
<circle cx="46.97" cy="92.21" r="0.5" fill="#0a0a0a" fill-opacity="0.85"/>
<circle cx="46.64" cy="78.49" r="0.5" fill="#0a0a0a" fill-opacity="0.85"/>
<circle cx="46.98" cy="79.30" r="0.5" fill="#0a0a0a" fill-opacity="0.85"/>
<circle cx="47.39" cy="75.77" r="0.5" fill="#0a0a0a" fill-opacity="0.85"/>
<circle cx="46.83" cy="84.74" r="0.5" fill="#0a0a0a" fill-opacity="0.85"/>
<circle cx="47.76" cy="84.43" r="0.5" fill="#0a0a0a" fill-opacity="0.85"/>
<circle cx="46.96" cy="68.40" r="0.5" fill="#1f5a55" fill-opacity="0.85"/>
<circle cx="48.03" cy="85.47" r="0.5" fill="#0a0a0a" fill-opacity="0.85"/>
<circle cx="47.18" cy="86.94" r="0.5" fill="#0a0a0a" fill-opacity="0.85"/>
<circle cx="46.43" cy="85.67" r="0.5" fill="#0a0a0a" fill-opacity="0.85"/>
<circle cx="49.04" cy="87.83" r="0.5" fill="#0a0a0a" fill-opacity="0.85"/>
<circle cx="49.08" cy="87.24" r="0.5" fill="#0a0a0a" fill-opacity="0.85"/>
<circle cx="47.82" cy="91.23" r="0.5" fill="#1f5a55" fill-opacity="0.85"/>
<circle cx="46.58" cy="73.39" r="0.5" fill="#0a0a0a" fill-opacity="0.85"/>
<circle cx="48.96" cy="83.78" r="0.5" fill="#0a0a0a" fill-opacity="0.85"/>
<circle cx="45.68" cy="82.14" r="0.5" fill="#0a0a0a" fill-opacity="0.85"/>
<circle cx="50.39" cy="92.82" r="0.5" fill="#0a0a0a" fill-opacity="0.85"/>
<circle cx="47.28" cy="88.67" r="0.5" fill="#0a0a0a" fill-opacity="0.85"/>
<circle cx="45.24" cy="88.96" r="0.5" fill="#0a0a0a" fill-opacity="0.85"/>
<circle cx="47.99" cy="91.67" r="0.5" fill="#0a0a0a" fill-opacity="0.85"/>
<circle cx="49.03" cy="94.40" r="0.5" fill="#0a0a0a" fill-opacity="0.85"/>
<circle cx="48.57" cy="90.59" r="0.5" fill="#0a0a0a" fill-opacity="0.85"/>
<circle cx="47.25" cy="89.39" r="0.5" fill="#0a0a0a" fill-opacity="0.85"/>
<circle cx="48.84" cy="83.14" r="0.5" fill="#0a0a0a" fill-opacity="0.85"/>
<circle cx="47.86" cy="82.96" r="0.5" fill="#0a0a0a" fill-opacity="0.85"/>
<circle cx="48.17" cy="86.21" r="0.5" fill="#0a0a0a" fill-opacity="0.85"/>
<circle cx="48.50" cy="78.72" r="0.5" fill="#0a0a0a" fill-opacity="0.85"/>
<circle cx="46.48" cy="97.77" r="0.5" fill="#0a0a0a" fill-opacity="0.85"/>
<circle cx="46.24" cy="81.54" r="0.5" fill="#0a0a0a" fill-opacity="0.85"/>
<circle cx="46.55" cy="67.68" r="0.5" fill="#1f5a55" fill-opacity="0.85"/>
<circle cx="47.55" cy="96.68" r="0.5" fill="#0a0a0a" fill-opacity="0.85"/>
<circle cx="50.79" cy="81.46" r="0.5" fill="#0a0a0a" fill-opacity="0.85"/>
<circle cx="47.14" cy="76.48" r="0.5" fill="#0a0a0a" fill-opacity="0.85"/>
<circle cx="47.83" cy="78.75" r="0.5" fill="#0a0a0a" fill-opacity="0.85"/>
<circle cx="47.27" cy="83.89" r="0.5" fill="#0a0a0a" fill-opacity="0.85"/>
<circle cx="46.87" cy="86.92" r="0.5" fill="#0a0a0a" fill-opacity="0.85"/>
<circle cx="45.28" cy="67.40" r="0.5" fill="#0a0a0a" fill-opacity="0.85"/>
<circle cx="46.82" cy="79.98" r="0.5" fill="#0a0a0a" fill-opacity="0.85"/>
<circle cx="47.60" cy="86.36" r="0.5" fill="#0a0a0a" fill-opacity="0.85"/>
<circle cx="48.77" cy="91.36" r="0.5" fill="#0a0a0a" fill-opacity="0.85"/>
<circle cx="47.42" cy="64.93" r="0.5" fill="#0a0a0a" fill-opacity="0.85"/>
<circle cx="48.16" cy="88.36" r="0.5" fill="#0a0a0a" fill-opacity="0.85"/>
<circle cx="47.42" cy="82.91" r="0.5" fill="#0a0a0a" fill-opacity="0.85"/>
<circle cx="47.62" cy="92.43" r="0.5" fill="#1f5a55" fill-opacity="0.85"/>
<circle cx="48.97" cy="85.92" r="0.5" fill="#0a0a0a" fill-opacity="0.85"/>
<circle cx="47.22" cy="78.85" r="0.5" fill="#0a0a0a" fill-opacity="0.85"/>
<circle cx="46.76" cy="76.73" r="0.5" fill="#1f5a55" fill-opacity="0.85"/>
<circle cx="47.30" cy="90.20" r="0.5" fill="#0a0a0a" fill-opacity="0.85"/>
<circle cx="47.98" cy="86.39" r="0.5" fill="#0a0a0a" fill-opacity="0.85"/>
<circle cx="45.98" cy="72.23" r="0.5" fill="#0a0a0a" fill-opacity="0.85"/>
<circle cx="48.08" cy="78.25" r="0.5" fill="#0a0a0a" fill-opacity="0.85"/>
<circle cx="46.71" cy="84.93" r="0.5" fill="#0a0a0a" fill-opacity="0.85"/>
<circle cx="48.80" cy="94.47" r="0.5" fill="#1f5a55" fill-opacity="0.85"/>
<circle cx="47.86" cy="78.37" r="0.5" fill="#0a0a0a" fill-opacity="0.85"/>
<circle cx="46.55" cy="82.46" r="0.5" fill="#0a0a0a" fill-opacity="0.85"/>
<circle cx="47.63" cy="82.19" r="0.5" fill="#0a0a0a" fill-opacity="0.85"/>
<circle cx="47.63" cy="87.11" r="0.5" fill="#0a0a0a" fill-opacity="0.85"/>
<circle cx="45.23" cy="82.60" r="0.5" fill="#0a0a0a" fill-opacity="0.85"/>
<circle cx="48.04" cy="77.27" r="0.5" fill="#0a0a0a" fill-opacity="0.85"/>
<circle cx="46.63" cy="88.68" r="0.5" fill="#0a0a0a" fill-opacity="0.85"/>
<circle cx="46.39" cy="77.28" r="0.5" fill="#0a0a0a" fill-opacity="0.85"/>
<circle cx="48.01" cy="71.19" r="0.5" fill="#1f5a55" fill-opacity="0.85"/>
<circle cx="49.70" cy="90.89" r="0.5" fill="#0a0a0a" fill-opacity="0.85"/>
<circle cx="47.94" cy="89.67" r="0.5" fill="#0a0a0a" fill-opacity="0.85"/>
<circle cx="49.62" cy="70.04" r="0.5" fill="#0a0a0a" fill-opacity="0.85"/>
<circle cx="45.91" cy="84.69" r="0.5" fill="#0a0a0a" fill-opacity="0.85"/>
<circle cx="46.88" cy="87.21" r="0.5" fill="#0a0a0a" fill-opacity="0.85"/>
<circle cx="48.20" cy="85.89" r="0.5" fill="#0a0a0a" fill-opacity="0.85"/>
<circle cx="48.52" cy="88.02" r="0.5" fill="#0a0a0a" fill-opacity="0.85"/>
<circle cx="47.60" cy="85.97" r="0.5" fill="#0a0a0a" fill-opacity="0.85"/>
<circle cx="48.53" cy="70.13" r="0.5" fill="#1f5a55" fill-opacity="0.85"/>
<circle cx="46.54" cy="72.28" r="0.5" fill="#0a0a0a" fill-opacity="0.85"/>
<circle cx="46.78" cy="80.81" r="0.5" fill="#0a0a0a" fill-opacity="0.85"/>
<circle cx="45.89" cy="82.97" r="0.5" fill="#0a0a0a" fill-opacity="0.85"/>
<circle cx="48.05" cy="65.85" r="0.5" fill="#0a0a0a" fill-opacity="0.85"/>
<circle cx="47.56" cy="102.14" r="0.5" fill="#0a0a0a" fill-opacity="0.85"/>
<circle cx="47.50" cy="90.59" r="0.5" fill="#0a0a0a" fill-opacity="0.85"/>
<circle cx="47.58" cy="62.36" r="0.5" fill="#0a0a0a" fill-opacity="0.85"/>
<circle cx="46.80" cy="68.56" r="0.45" fill="#333" fill-opacity="0.85"/>
<circle cx="47.73" cy="61.94" r="0.45" fill="#333" fill-opacity="0.85"/>
<circle cx="49.56" cy="65.57" r="0.45" fill="#333" fill-opacity="0.85"/>
<circle cx="46.33" cy="66.31" r="0.45" fill="#333" fill-opacity="0.85"/>
<circle cx="45.44" cy="63.63" r="0.45" fill="#333" fill-opacity="0.85"/>
<circle cx="47.03" cy="68.08" r="0.45" fill="#333" fill-opacity="0.85"/>
<circle cx="45.92" cy="63.25" r="0.45" fill="#333" fill-opacity="0.85"/>
<circle cx="46.90" cy="66.70" r="0.45" fill="#333" fill-opacity="0.85"/>
<circle cx="47.27" cy="60.54" r="0.45" fill="#333" fill-opacity="0.85"/>
<circle cx="49.35" cy="65.47" r="0.45" fill="#333" fill-opacity="0.85"/>
<circle cx="48.53" cy="59.74" r="0.45" fill="#333" fill-opacity="0.85"/>
<circle cx="49.22" cy="58.32" r="0.45" fill="#333" fill-opacity="0.85"/>
<circle cx="48.89" cy="62.14" r="0.45" fill="#333" fill-opacity="0.85"/>
<circle cx="47.86" cy="59.70" r="0.45" fill="#333" fill-opacity="0.85"/>
<circle cx="47.65" cy="66.31" r="0.45" fill="#333" fill-opacity="0.85"/>
<circle cx="47.12" cy="65.61" r="0.45" fill="#333" fill-opacity="0.85"/>
<circle cx="46.21" cy="58.79" r="0.45" fill="#333" fill-opacity="0.85"/>
<circle cx="46.51" cy="65.09" r="0.45" fill="#333" fill-opacity="0.85"/>
<circle cx="48.86" cy="67.83" r="0.45" fill="#333" fill-opacity="0.85"/>
<circle cx="49.26" cy="68.70" r="0.45" fill="#333" fill-opacity="0.85"/>
<circle cx="48.33" cy="68.97" r="0.45" fill="#333" fill-opacity="0.85"/>
<circle cx="48.08" cy="69.33" r="0.45" fill="#333" fill-opacity="0.85"/>
<circle cx="47.98" cy="59.34" r="0.45" fill="#333" fill-opacity="0.85"/>
<circle cx="48.55" cy="58.41" r="0.45" fill="#333" fill-opacity="0.85"/>
<circle cx="46.26" cy="65.61" r="0.45" fill="#333" fill-opacity="0.85"/>
<circle cx="47.10" cy="67.90" r="0.45" fill="#333" fill-opacity="0.85"/>
<circle cx="47.06" cy="59.20" r="0.45" fill="#333" fill-opacity="0.85"/>
<circle cx="47.63" cy="59.17" r="0.45" fill="#333" fill-opacity="0.85"/>
<circle cx="46.99" cy="61.83" r="0.45" fill="#333" fill-opacity="0.85"/>
<circle cx="48.29" cy="63.09" r="0.45" fill="#333" fill-opacity="0.85"/>
<circle cx="47.69" cy="61.39" r="0.45" fill="#333" fill-opacity="0.85"/>
<circle cx="47.07" cy="66.59" r="0.45" fill="#333" fill-opacity="0.85"/>
<circle cx="48.18" cy="69.57" r="0.45" fill="#333" fill-opacity="0.85"/>
<circle cx="48.34" cy="64.04" r="0.45" fill="#333" fill-opacity="0.85"/>
<circle cx="46.60" cy="58.37" r="0.45" fill="#333" fill-opacity="0.85"/>
<circle cx="46.17" cy="62.96" r="0.45" fill="#333" fill-opacity="0.85"/>
<circle cx="48.20" cy="62.16" r="0.45" fill="#333" fill-opacity="0.85"/>
<circle cx="46.99" cy="66.46" r="0.45" fill="#333" fill-opacity="0.85"/>
<circle cx="47.45" cy="68.35" r="0.45" fill="#333" fill-opacity="0.85"/>
<circle cx="47.83" cy="59.09" r="0.45" fill="#333" fill-opacity="0.85"/>
<line x1="45.60" y1="34.5" x2="48.40" y2="34.5" stroke="#555" stroke-width="0.45"/>
<line x1="45.84" y1="41.5" x2="48.64" y2="41.5" stroke="#555" stroke-width="0.45"/>
<line x1="46.51" y1="46" x2="49.31" y2="46" stroke="#555" stroke-width="0.45"/>
<line x1="46.77" y1="50.5" x2="49.57" y2="50.5" stroke="#555" stroke-width="0.45"/>
<line x1="45.61" y1="53" x2="48.41" y2="53" stroke="#555" stroke-width="0.45"/>
<line x1="46.19" y1="55" x2="48.99" y2="55" stroke="#555" stroke-width="0.45"/>
<line x1="46.19" y1="57.2" x2="48.99" y2="57.2" stroke="#555" stroke-width="0.45"/>
<line x1="46.56" y1="59" x2="49.36" y2="59" stroke="#555" stroke-width="0.45"/>
<line x1="45.82" y1="61.5" x2="48.62" y2="61.5" stroke="#555" stroke-width="0.45"/>
<line x1="46.19" y1="63.5" x2="48.99" y2="63.5" stroke="#555" stroke-width="0.45"/>
<line x1="46.02" y1="65.5" x2="48.82" y2="65.5" stroke="#555" stroke-width="0.45"/>
<line x1="46.60" y1="67.5" x2="49.40" y2="67.5" stroke="#555" stroke-width="0.45"/>
<circle cx="64.32" cy="62" r="0.45" fill="#444" fill-opacity="0.8"/>
<circle cx="65.69" cy="68" r="0.45" fill="#444" fill-opacity="0.8"/>
<circle cx="64.37" cy="75" r="0.45" fill="#444" fill-opacity="0.8"/>
<circle cx="64.23" cy="80" r="0.45" fill="#444" fill-opacity="0.8"/>
<circle cx="65.20" cy="83" r="0.45" fill="#444" fill-opacity="0.8"/>
<circle cx="64.80" cy="86" r="0.45" fill="#444" fill-opacity="0.8"/>
<circle cx="65.68" cy="93.98" r="0.5" fill="#0a0a0a" fill-opacity="0.85"/>
<circle cx="66.03" cy="100.11" r="0.5" fill="#0a0a0a" fill-opacity="0.85"/>
<circle cx="64.34" cy="99.90" r="0.5" fill="#0a0a0a" fill-opacity="0.85"/>
<circle cx="64.28" cy="89.32" r="0.5" fill="#0a0a0a" fill-opacity="0.85"/>
<circle cx="64.15" cy="93.46" r="0.5" fill="#0a0a0a" fill-opacity="0.85"/>
<circle cx="65.06" cy="98.75" r="0.5" fill="#0a0a0a" fill-opacity="0.85"/>
<circle cx="64.94" cy="95.17" r="0.5" fill="#0a0a0a" fill-opacity="0.85"/>
<circle cx="64.97" cy="95.69" r="0.5" fill="#0a0a0a" fill-opacity="0.85"/>
<circle cx="65.57" cy="99.46" r="0.5" fill="#0a0a0a" fill-opacity="0.85"/>
<circle cx="63.59" cy="93.42" r="0.5" fill="#0a0a0a" fill-opacity="0.85"/>
<circle cx="64.89" cy="102.30" r="0.5" fill="#0a0a0a" fill-opacity="0.85"/>
<circle cx="63.49" cy="100.94" r="0.5" fill="#0a0a0a" fill-opacity="0.85"/>
<circle cx="64.82" cy="94.91" r="0.5" fill="#0a0a0a" fill-opacity="0.85"/>
<circle cx="64.39" cy="90.25" r="0.5" fill="#0a0a0a" fill-opacity="0.85"/>
<circle cx="65.66" cy="99.34" r="0.5" fill="#0a0a0a" fill-opacity="0.85"/>
<circle cx="64.11" cy="103.00" r="0.5" fill="#0a0a0a" fill-opacity="0.85"/>
<circle cx="65.22" cy="90.41" r="0.5" fill="#0a0a0a" fill-opacity="0.85"/>
<circle cx="64.95" cy="100.25" r="0.5" fill="#0a0a0a" fill-opacity="0.85"/>
<circle cx="65.43" cy="90.83" r="0.5" fill="#0a0a0a" fill-opacity="0.85"/>
<circle cx="65.24" cy="99.63" r="0.5" fill="#0a0a0a" fill-opacity="0.85"/>
<circle cx="65.04" cy="94.25" r="0.5" fill="#0a0a0a" fill-opacity="0.85"/>
<circle cx="64.35" cy="99.62" r="0.5" fill="#0a0a0a" fill-opacity="0.85"/>
<circle cx="65.06" cy="88.56" r="0.5" fill="#0a0a0a" fill-opacity="0.85"/>
<circle cx="64.81" cy="98.32" r="0.5" fill="#0a0a0a" fill-opacity="0.85"/>
<circle cx="64.33" cy="100.03" r="0.5" fill="#0a0a0a" fill-opacity="0.85"/>
<circle cx="64.56" cy="95.95" r="0.5" fill="#0a0a0a" fill-opacity="0.85"/>
<circle cx="66.08" cy="98.70" r="0.5" fill="#0a0a0a" fill-opacity="0.85"/>
<circle cx="66.44" cy="95.24" r="0.5" fill="#0a0a0a" fill-opacity="0.85"/>
<circle cx="65.43" cy="102.72" r="0.5" fill="#0a0a0a" fill-opacity="0.85"/>
<circle cx="66.22" cy="98.77" r="0.5" fill="#0a0a0a" fill-opacity="0.85"/>
<circle cx="64.71" cy="95.54" r="0.5" fill="#0a0a0a" fill-opacity="0.85"/>
<circle cx="65.18" cy="91.84" r="0.5" fill="#0a0a0a" fill-opacity="0.85"/>
<circle cx="65.23" cy="101.95" r="0.5" fill="#0a0a0a" fill-opacity="0.85"/>
<circle cx="64.64" cy="98.08" r="0.5" fill="#0a0a0a" fill-opacity="0.85"/>
<circle cx="63.66" cy="97.01" r="0.5" fill="#0a0a0a" fill-opacity="0.85"/>
<circle cx="64.47" cy="100.71" r="0.5" fill="#0a0a0a" fill-opacity="0.85"/>
<circle cx="64.20" cy="91.66" r="0.5" fill="#0a0a0a" fill-opacity="0.85"/>
<circle cx="65.48" cy="92.84" r="0.5" fill="#0a0a0a" fill-opacity="0.85"/>
<circle cx="63.71" cy="100.74" r="0.5" fill="#0a0a0a" fill-opacity="0.85"/>
<circle cx="65.51" cy="100.19" r="0.5" fill="#0a0a0a" fill-opacity="0.85"/>
<circle cx="63.61" cy="93.87" r="0.5" fill="#0a0a0a" fill-opacity="0.85"/>
<circle cx="64.29" cy="93.17" r="0.5" fill="#0a0a0a" fill-opacity="0.85"/>
<circle cx="64.51" cy="97.74" r="0.5" fill="#0a0a0a" fill-opacity="0.85"/>
<circle cx="63.57" cy="97.28" r="0.5" fill="#0a0a0a" fill-opacity="0.85"/>
<circle cx="63.83" cy="100.10" r="0.5" fill="#0a0a0a" fill-opacity="0.85"/>
<circle cx="64.12" cy="93.39" r="0.5" fill="#0a0a0a" fill-opacity="0.85"/>
<circle cx="65.84" cy="94.02" r="0.5" fill="#0a0a0a" fill-opacity="0.85"/>
<circle cx="65.28" cy="99.88" r="0.5" fill="#0a0a0a" fill-opacity="0.85"/>
<circle cx="63.56" cy="97.64" r="0.5" fill="#0a0a0a" fill-opacity="0.85"/>
<circle cx="64.36" cy="94.11" r="0.5" fill="#0a0a0a" fill-opacity="0.85"/>
<circle cx="65.21" cy="92.19" r="0.5" fill="#0a0a0a" fill-opacity="0.85"/>
<circle cx="64.23" cy="93.19" r="0.5" fill="#0a0a0a" fill-opacity="0.85"/>
<circle cx="63.15" cy="91.91" r="0.5" fill="#0a0a0a" fill-opacity="0.85"/>
<circle cx="65.86" cy="98.80" r="0.5" fill="#0a0a0a" fill-opacity="0.85"/>
<circle cx="64.02" cy="97.03" r="0.5" fill="#0a0a0a" fill-opacity="0.85"/>
<circle cx="65.77" cy="97.03" r="0.5" fill="#0a0a0a" fill-opacity="0.85"/>
<circle cx="65.54" cy="97.55" r="0.5" fill="#0a0a0a" fill-opacity="0.85"/>
<circle cx="65.70" cy="102.51" r="0.5" fill="#0a0a0a" fill-opacity="0.85"/>
<circle cx="65.64" cy="94.45" r="0.5" fill="#0a0a0a" fill-opacity="0.85"/>
<circle cx="63.57" cy="99.56" r="0.5" fill="#0a0a0a" fill-opacity="0.85"/>
<circle cx="63.66" cy="94.60" r="0.5" fill="#0a0a0a" fill-opacity="0.85"/>
<circle cx="65.26" cy="95.84" r="0.5" fill="#0a0a0a" fill-opacity="0.85"/>
<circle cx="63.16" cy="91.81" r="0.5" fill="#0a0a0a" fill-opacity="0.85"/>
<circle cx="65.10" cy="101.75" r="0.5" fill="#0a0a0a" fill-opacity="0.85"/>
<circle cx="63.74" cy="102.48" r="0.5" fill="#0a0a0a" fill-opacity="0.85"/>
<circle cx="66.46" cy="100.75" r="0.5" fill="#0a0a0a" fill-opacity="0.85"/>
<circle cx="64.63" cy="104.73" r="0.5" fill="#0a0a0a" fill-opacity="0.85"/>
<circle cx="64.68" cy="97.43" r="0.5" fill="#0a0a0a" fill-opacity="0.85"/>
<circle cx="65.63" cy="100.49" r="0.5" fill="#0a0a0a" fill-opacity="0.85"/>
<circle cx="63.71" cy="96.67" r="0.5" fill="#0a0a0a" fill-opacity="0.85"/>
<circle cx="64.42" cy="99.41" r="0.5" fill="#0a0a0a" fill-opacity="0.85"/>
<circle cx="65.01" cy="98.94" r="0.5" fill="#0a0a0a" fill-opacity="0.85"/>
<circle cx="65.71" cy="103.12" r="0.5" fill="#0a0a0a" fill-opacity="0.85"/>
<circle cx="65.08" cy="94.41" r="0.5" fill="#0a0a0a" fill-opacity="0.85"/>
<circle cx="64.37" cy="103.71" r="0.5" fill="#0a0a0a" fill-opacity="0.85"/>
<circle cx="65.75" cy="98.12" r="0.5" fill="#0a0a0a" fill-opacity="0.85"/>
<circle cx="65.21" cy="101.58" r="0.5" fill="#0a0a0a" fill-opacity="0.85"/>
<circle cx="63.79" cy="90.76" r="0.5" fill="#0a0a0a" fill-opacity="0.85"/>
<circle cx="65.11" cy="97.34" r="0.5" fill="#0a0a0a" fill-opacity="0.85"/>
<circle cx="64.11" cy="107.00" r="0.5" fill="#0a0a0a" fill-opacity="0.85"/>
<circle cx="65.42" cy="101.08" r="0.5" fill="#0a0a0a" fill-opacity="0.85"/>
<circle cx="64.15" cy="89.28" r="0.5" fill="#0a0a0a" fill-opacity="0.85"/>
<circle cx="64.41" cy="97.00" r="0.5" fill="#0a0a0a" fill-opacity="0.85"/>
<circle cx="65.18" cy="95.65" r="0.5" fill="#0a0a0a" fill-opacity="0.85"/>
<circle cx="65.17" cy="92.90" r="0.5" fill="#0a0a0a" fill-opacity="0.85"/>
<circle cx="64.36" cy="93.63" r="0.5" fill="#0a0a0a" fill-opacity="0.85"/>
<circle cx="64.34" cy="98.55" r="0.5" fill="#0a0a0a" fill-opacity="0.85"/>
<circle cx="66.08" cy="97.51" r="0.5" fill="#0a0a0a" fill-opacity="0.85"/>
<circle cx="64.68" cy="96.41" r="0.5" fill="#0a0a0a" fill-opacity="0.85"/>
<circle cx="64.51" cy="99.39" r="0.5" fill="#0a0a0a" fill-opacity="0.85"/>
<circle cx="63.77" cy="100.85" r="0.5" fill="#0a0a0a" fill-opacity="0.85"/>
<circle cx="64.39" cy="98.90" r="0.5" fill="#0a0a0a" fill-opacity="0.85"/>
<circle cx="66.22" cy="92.95" r="0.5" fill="#0a0a0a" fill-opacity="0.85"/>
<circle cx="66.21" cy="92.73" r="0.5" fill="#0a0a0a" fill-opacity="0.85"/>
<circle cx="65.96" cy="99.06" r="0.5" fill="#0a0a0a" fill-opacity="0.85"/>
<circle cx="65.76" cy="92.20" r="0.5" fill="#0a0a0a" fill-opacity="0.85"/>
<circle cx="64.71" cy="102.42" r="0.5" fill="#0a0a0a" fill-opacity="0.85"/>
<circle cx="66.76" cy="95.76" r="0.5" fill="#0a0a0a" fill-opacity="0.85"/>
<circle cx="64.46" cy="97.05" r="0.5" fill="#0a0a0a" fill-opacity="0.85"/>
<circle cx="65.16" cy="93.65" r="0.5" fill="#0a0a0a" fill-opacity="0.85"/>
<circle cx="64.94" cy="97.69" r="0.5" fill="#0a0a0a" fill-opacity="0.85"/>
<circle cx="64.54" cy="103.53" r="0.5" fill="#0a0a0a" fill-opacity="0.85"/>
<circle cx="65.97" cy="98.29" r="0.5" fill="#0a0a0a" fill-opacity="0.85"/>
<circle cx="65.63" cy="92.08" r="0.5" fill="#0a0a0a" fill-opacity="0.85"/>
<circle cx="63.72" cy="103.99" r="0.5" fill="#0a0a0a" fill-opacity="0.85"/>
<circle cx="63.97" cy="91.69" r="0.5" fill="#0a0a0a" fill-opacity="0.85"/>
<circle cx="65.16" cy="88.55" r="0.5" fill="#0a0a0a" fill-opacity="0.85"/>
<circle cx="65.20" cy="88.50" r="0.5" fill="#0a0a0a" fill-opacity="0.85"/>
<circle cx="63.51" cy="102.40" r="0.5" fill="#0a0a0a" fill-opacity="0.85"/>
<circle cx="63.27" cy="94.97" r="0.5" fill="#0a0a0a" fill-opacity="0.85"/>
<circle cx="64.21" cy="99.57" r="0.5" fill="#0a0a0a" fill-opacity="0.85"/>
<circle cx="64.84" cy="95.18" r="0.5" fill="#0a0a0a" fill-opacity="0.85"/>
<circle cx="64.52" cy="98.59" r="0.5" fill="#0a0a0a" fill-opacity="0.85"/>
<circle cx="64.36" cy="96.36" r="0.5" fill="#0a0a0a" fill-opacity="0.85"/>
<circle cx="63.86" cy="96.78" r="0.5" fill="#0a0a0a" fill-opacity="0.85"/>
<circle cx="63.25" cy="96.57" r="0.5" fill="#0a0a0a" fill-opacity="0.85"/>
<circle cx="66.33" cy="94.24" r="0.5" fill="#0a0a0a" fill-opacity="0.85"/>
<circle cx="63.79" cy="96.63" r="0.5" fill="#0a0a0a" fill-opacity="0.85"/>
<circle cx="64.02" cy="97.38" r="0.5" fill="#0a0a0a" fill-opacity="0.85"/>
<circle cx="64.21" cy="89.36" r="0.5" fill="#0a0a0a" fill-opacity="0.85"/>
<circle cx="65.11" cy="99.39" r="0.5" fill="#0a0a0a" fill-opacity="0.85"/>
<circle cx="64.06" cy="95.89" r="0.5" fill="#0a0a0a" fill-opacity="0.85"/>
<circle cx="65.88" cy="91.77" r="0.5" fill="#0a0a0a" fill-opacity="0.85"/>
<circle cx="64.04" cy="97.33" r="0.5" fill="#0a0a0a" fill-opacity="0.85"/>
<circle cx="66.78" cy="90.55" r="0.5" fill="#0a0a0a" fill-opacity="0.85"/>
<circle cx="64.74" cy="91.47" r="0.5" fill="#0a0a0a" fill-opacity="0.85"/>
<circle cx="64.67" cy="97.18" r="0.5" fill="#0a0a0a" fill-opacity="0.85"/>
<circle cx="63.70" cy="95.13" r="0.5" fill="#0a0a0a" fill-opacity="0.85"/>
<circle cx="66.15" cy="91.89" r="0.5" fill="#0a0a0a" fill-opacity="0.85"/>
<circle cx="65.48" cy="93.12" r="0.5" fill="#0a0a0a" fill-opacity="0.85"/>
<circle cx="64.58" cy="89.19" r="0.5" fill="#0a0a0a" fill-opacity="0.85"/>
<circle cx="65.63" cy="97.40" r="0.5" fill="#0a0a0a" fill-opacity="0.85"/>
<circle cx="65.28" cy="91.58" r="0.5" fill="#0a0a0a" fill-opacity="0.85"/>
<circle cx="64.21" cy="97.92" r="0.5" fill="#0a0a0a" fill-opacity="0.85"/>
<circle cx="64.08" cy="98.30" r="0.5" fill="#0a0a0a" fill-opacity="0.85"/>
<circle cx="64.78" cy="92.96" r="0.5" fill="#0a0a0a" fill-opacity="0.85"/>
<circle cx="64.00" cy="95.84" r="0.5" fill="#0a0a0a" fill-opacity="0.85"/>
<circle cx="64.46" cy="90.16" r="0.5" fill="#0a0a0a" fill-opacity="0.85"/>
<circle cx="64.48" cy="99.50" r="0.5" fill="#0a0a0a" fill-opacity="0.85"/>
<circle cx="63.87" cy="101.62" r="0.5" fill="#0a0a0a" fill-opacity="0.85"/>
<circle cx="66.04" cy="90.79" r="0.5" fill="#0a0a0a" fill-opacity="0.85"/>
<circle cx="65.56" cy="97.97" r="0.5" fill="#0a0a0a" fill-opacity="0.85"/>
<circle cx="65.44" cy="92.83" r="0.5" fill="#0a0a0a" fill-opacity="0.85"/>
<circle cx="65.32" cy="97.39" r="0.5" fill="#0a0a0a" fill-opacity="0.85"/>
<circle cx="65.77" cy="96.41" r="0.5" fill="#0a0a0a" fill-opacity="0.85"/>
<circle cx="64.03" cy="93.57" r="0.5" fill="#0a0a0a" fill-opacity="0.85"/>
<text x="56" y="119" text-anchor="middle" font-family="Liberation Sans, sans-serif" font-size="3.4" fill="#111" stroke="#111" stroke-width="0.12">PRAD</text>
<text x="56.5" y="123.8" text-anchor="middle" font-family="Liberation Sans, sans-serif" font-size="3.42" fill="#111" stroke="#111" stroke-width="0.1">(num(T)=492; num(N)=152)</text>
<text x="118" y="13.7" font-family="Liberation Sans, sans-serif" font-weight="bold" font-size="7.2">B</text>
<text x="130.8" y="19.2" font-family="Liberation Sans, sans-serif" font-size="5.04" fill="#222">Expression of RNF157 in PRAD based on Sample types</text>
<line x1="131" y1="26.5" x2="131" y2="112" stroke="#666" stroke-width="0.6"/>
<line x1="131" y1="111.6" x2="262.5" y2="111.6" stroke="#666" stroke-width="0.7"/>
<line x1="129.4" y1="27" x2="131" y2="27" stroke="#666" stroke-width="0.6"/>
<text x="128.1" y="28.2" text-anchor="end" font-family="Liberation Sans, sans-serif" font-size="3.3" fill="#777">20</text>
<line x1="129.4" y1="48.2" x2="131" y2="48.2" stroke="#666" stroke-width="0.6"/>
<text x="128.1" y="49.400000000000006" text-anchor="end" font-family="Liberation Sans, sans-serif" font-size="3.3" fill="#777">15</text>
<line x1="129.4" y1="69.3" x2="131" y2="69.3" stroke="#666" stroke-width="0.6"/>
<text x="128.1" y="70.5" text-anchor="end" font-family="Liberation Sans, sans-serif" font-size="3.3" fill="#777">10</text>
<line x1="129.4" y1="90.6" x2="131" y2="90.6" stroke="#666" stroke-width="0.6"/>
<text x="128.1" y="91.8" text-anchor="end" font-family="Liberation Sans, sans-serif" font-size="3.3" fill="#777">5</text>
<line x1="129.4" y1="112" x2="131" y2="112" stroke="#666" stroke-width="0.6"/>
<text x="128.1" y="113.2" text-anchor="end" font-family="Liberation Sans, sans-serif" font-size="3.3" fill="#777">0</text>
<text transform="translate(121,68.5) rotate(-90)" text-anchor="middle" font-family="Liberation Sans, sans-serif" font-weight="bold" font-size="3.6" fill="#222">Transcript per million</text>
<text x="155.5" y="39.4" font-family="Liberation Sans, sans-serif" font-size="5.58" fill="#444">P = 7.1070005436269E-10</text>
<line x1="158.5" y1="97.1" x2="174.4" y2="97.1" stroke="#555" stroke-width="0.6"/>
<line x1="158.5" y1="110.3" x2="174.4" y2="110.3" stroke="#555" stroke-width="0.6"/>
<line x1="166.4" y1="97.1" x2="166.4" y2="110.3" stroke="#555" stroke-width="0.6"/>
<rect x="149.7" y="103.4" width="33.3" height="3.4" fill="#2a3d92" stroke="#1a2a70" stroke-width="0.4"/>
<line x1="149.7" y1="105.1" x2="183" y2="105.1" stroke="#141c5a" stroke-width="0.7"/>
<line x1="226.8" y1="37" x2="243.7" y2="37" stroke="#555" stroke-width="0.6"/>
<line x1="235.6" y1="37" x2="235.6" y2="111" stroke="#555" stroke-width="0.6"/>
<line x1="226.8" y1="111" x2="243.7" y2="111" stroke="#555" stroke-width="0.6"/>
<rect x="218.8" y="81.4" width="33.2" height="20.1" fill="#f23b22" stroke="#d82a15" stroke-width="0.4"/>
<line x1="218.8" y1="93.8" x2="252" y2="93.8" stroke="#a81505" stroke-width="1.1"/>
<text x="166.4" y="117.1" text-anchor="middle" font-family="Liberation Sans, sans-serif" font-size="3.0" fill="#666">Normal</text>
<text x="166.4" y="120.7" text-anchor="middle" font-family="Liberation Sans, sans-serif" font-size="3.0" fill="#666">(n=52)</text>
<text x="235.6" y="117.1" text-anchor="middle" font-family="Liberation Sans, sans-serif" font-size="3.0" fill="#666">Primary tumor</text>
<text x="235.6" y="120.7" text-anchor="middle" font-family="Liberation Sans, sans-serif" font-size="3.0" fill="#666">(n=497)</text>
<text x="200.7" y="127.3" text-anchor="middle" font-family="Liberation Sans, sans-serif" font-weight="bold" font-size="3.75" fill="#111">TCGA samples</text>
<text x="288" y="10.5" font-family="Liberation Sans, sans-serif" font-weight="bold" font-size="7.8">C</text>
<rect x="288.5" y="14.5" width="108" height="98.7" fill="#fff" stroke="#b8c8d8" stroke-width="1"/>
<line x1="288" y1="113.2" x2="397" y2="113.2" stroke="#a0a8b0" stroke-width="0.8"/>
<text x="342.7" y="18" text-anchor="middle" font-family="Liberation Sans, sans-serif" font-weight="bold" font-size="3.2" fill="#333">RNF157 with PPI cancer vs normal samples in PRAD</text>
<text x="342.8" y="23.1" text-anchor="middle" font-family="Liberation Sans, sans-serif" font-size="2.6" fill="#666">Data source: UALCAN project</text>
<rect x="390.5" y="16.5" width="3" height="2.4" fill="#777"/>
<line x1="302" y1="27.6" x2="394.5" y2="27.6" stroke="#e2e2e2" stroke-width="0.5"/>
<text x="299" y="28.6" text-anchor="end" font-family="Liberation Sans, sans-serif" font-size="2.4" fill="#666">6</text>
<line x1="302" y1="39.05" x2="394.5" y2="39.05" stroke="#e2e2e2" stroke-width="0.5"/>
<text x="299" y="40.05" text-anchor="end" font-family="Liberation Sans, sans-serif" font-size="2.4" fill="#666">5</text>
<line x1="302" y1="50.5" x2="394.5" y2="50.5" stroke="#e2e2e2" stroke-width="0.5"/>
<text x="299" y="51.5" text-anchor="end" font-family="Liberation Sans, sans-serif" font-size="2.4" fill="#666">4</text>
<line x1="302" y1="61.95" x2="394.5" y2="61.95" stroke="#e2e2e2" stroke-width="0.5"/>
<text x="299" y="62.95" text-anchor="end" font-family="Liberation Sans, sans-serif" font-size="2.4" fill="#666">3</text>
<line x1="302" y1="73.4" x2="394.5" y2="73.4" stroke="#e2e2e2" stroke-width="0.5"/>
<text x="299" y="74.4" text-anchor="end" font-family="Liberation Sans, sans-serif" font-size="2.4" fill="#666">2</text>
<line x1="302" y1="84.85" x2="394.5" y2="84.85" stroke="#e2e2e2" stroke-width="0.5"/>
<text x="299" y="85.85" text-anchor="end" font-family="Liberation Sans, sans-serif" font-size="2.4" fill="#666">1</text>
<line x1="302" y1="96.3" x2="394.5" y2="96.3" stroke="#e2e2e2" stroke-width="0.5"/>
<text x="299" y="97.3" text-anchor="end" font-family="Liberation Sans, sans-serif" font-size="2.4" fill="#666">0</text>
<line x1="302" y1="26" x2="302" y2="97.8" stroke="#ccc" stroke-width="0.5"/>
<line x1="302" y1="97.8" x2="394.8" y2="97.8" stroke="#ccc" stroke-width="0.5"/>
<text transform="translate(294.2,59) rotate(-90)" text-anchor="middle" font-family="Liberation Sans, sans-serif" font-size="3.35" fill="#666">Transcript per million (log2)</text>
<text x="368" y="35" text-anchor="end" font-family="Liberation Sans, sans-serif" font-size="5.5" fill="#666">FDR = 9.6e-12</text>
<line x1="324.8" y1="48.4" x2="324.8" y2="88.2" stroke="#888" stroke-width="0.5" stroke-dasharray="0.8,0.8"/>
<line x1="324.8" y1="35.5" x2="324.8" y2="48" stroke="#9bbdd0" stroke-width="0.8"/>
<line x1="321.5" y1="48.4" x2="328" y2="48.4" stroke="#5aa89a" stroke-width="0.7"/>
<line x1="321.8" y1="88.2" x2="327.8" y2="88.2" stroke="#6aaa90" stroke-width="0.7"/>
<circle cx="324.8" cy="36" r="0.45" fill="#6a9cc0"/>
<circle cx="324.8" cy="38.5" r="0.45" fill="#6a9cc0"/>
<circle cx="324.8" cy="41" r="0.45" fill="#6a9cc0"/>
<circle cx="324.8" cy="43.5" r="0.45" fill="#6a9cc0"/>
<circle cx="324.8" cy="45.5" r="0.45" fill="#6a9cc0"/>
<rect x="313.4" y="63.4" width="22.4" height="9.3" fill="#e55e1c" stroke="#c44a10" stroke-width="0.4"/>
<line x1="313.4" y1="68.4" x2="335.8" y2="68.4" stroke="#8a3008" stroke-width="0.5"/>
<line x1="371.5" y1="67.7" x2="371.5" y2="85.8" stroke="#888" stroke-width="0.5" stroke-dasharray="0.8,0.8"/>
<line x1="368.7" y1="67.7" x2="374.3" y2="67.7" stroke="#6aaa90" stroke-width="0.7"/>
<line x1="368.7" y1="85.8" x2="374.3" y2="85.8" stroke="#6aaa90" stroke-width="0.7"/>
<circle cx="371.5" cy="48.4" r="0.45" fill="#8a8"/>
<circle cx="371.5" cy="61.5" r="0.45" fill="#8a8"/>
<rect x="360" y="75.1" width="22.8" height="4.6" fill="#5a40ae" stroke="#3e2a80" stroke-width="0.4"/>
<line x1="360" y1="77.4" x2="382.8" y2="77.4" stroke="#2a1a60" stroke-width="0.4"/>
<text x="315" y="101.5" font-family="Liberation Sans, sans-serif" font-size="2.5" fill="#777" textLength="18" lengthAdjust="spacingAndGlyphs">Primary tumor(n=497)</text>
<text x="361" y="101.5" font-family="Liberation Sans, sans-serif" font-size="2.5" fill="#777" textLength="16" lengthAdjust="spacingAndGlyphs">Normal tissue(n=52)</text>
<rect x="318.4" y="105.4" width="46.8" height="5.6" rx="1" fill="#fff" stroke="#777" stroke-width="0.5"/>
<rect x="321.2" y="107.2" width="2.4" height="2" fill="none" stroke="#999" stroke-width="0.3"/>
<text x="325.3" y="109.2" font-family="Liberation Sans, sans-serif" font-weight="bold" font-size="2.9" fill="#333" textLength="10.3" lengthAdjust="spacingAndGlyphs">Box plot</text>
<circle cx="340" cy="108.2" r="0.6" fill="none" stroke="#999" stroke-width="0.3"/>
<text x="343.2" y="109.2" font-family="Liberation Sans, sans-serif" font-weight="bold" font-size="2.9" fill="#333" textLength="20.6" lengthAdjust="spacingAndGlyphs">Table representation</text>
<text x="0" y="168.7" font-family="Liberation Sans, sans-serif" font-weight="bold" font-size="7.2">D</text>
<text x="5" y="174" font-family="Liberation Sans, sans-serif" font-size="3.3" fill="#444">nTPM</text>
<line x1="8.8" y1="177.3" x2="8.8" y2="224.2" stroke="#555" stroke-width="0.5"/>
<line x1="8.8" y1="224.2" x2="270.3" y2="224.2" stroke="#444" stroke-width="0.6"/>
<line x1="7.6" y1="224.20" x2="8.8" y2="224.20" stroke="#555" stroke-width="0.5"/>
<text x="6.9" y="225.40" text-anchor="end" font-family="Liberation Sans, sans-serif" font-size="3.4" fill="#444">0</text>
<line x1="7.6" y1="216.38" x2="8.8" y2="216.38" stroke="#555" stroke-width="0.5"/>
<text x="6.9" y="217.58" text-anchor="end" font-family="Liberation Sans, sans-serif" font-size="3.4" fill="#444">20</text>
<line x1="7.6" y1="208.56" x2="8.8" y2="208.56" stroke="#555" stroke-width="0.5"/>
<text x="6.9" y="209.76" text-anchor="end" font-family="Liberation Sans, sans-serif" font-size="3.4" fill="#444">40</text>
<line x1="7.6" y1="200.74" x2="8.8" y2="200.74" stroke="#555" stroke-width="0.5"/>
<text x="6.9" y="201.94" text-anchor="end" font-family="Liberation Sans, sans-serif" font-size="3.4" fill="#444">60</text>
<line x1="7.6" y1="192.92" x2="8.8" y2="192.92" stroke="#555" stroke-width="0.5"/>
<text x="6.9" y="194.12" text-anchor="end" font-family="Liberation Sans, sans-serif" font-size="3.4" fill="#444">80</text>
<line x1="7.6" y1="185.10" x2="8.8" y2="185.10" stroke="#555" stroke-width="0.5"/>
<text x="6.9" y="186.30" text-anchor="end" font-family="Liberation Sans, sans-serif" font-size="3.4" fill="#444">100</text>
<line x1="7.6" y1="177.28" x2="8.8" y2="177.28" stroke="#555" stroke-width="0.5"/>
<text x="6.9" y="178.48" text-anchor="end" font-family="Liberation Sans, sans-serif" font-size="3.4" fill="#444">120</text>
<rect x="10.00" y="185.10" width="3.32" height="39.10" fill="#a9a9a9"/>
<line x1="11.66" y1="224.2" x2="11.66" y2="225.4" stroke="#444" stroke-width="0.5"/>
<text transform="translate(12.06,226.2) rotate(-55)" text-anchor="end" font-family="Liberation Sans, sans-serif" font-size="3.7" fill="#444" stroke="#444" stroke-width="0.12">U-266/84</text>
<rect x="13.77" y="203.87" width="3.32" height="20.33" fill="#b0b0b8"/>
<line x1="15.43" y1="224.2" x2="15.43" y2="225.4" stroke="#444" stroke-width="0.5"/>
<text transform="translate(15.83,226.2) rotate(-55)" text-anchor="end" font-family="Liberation Sans, sans-serif" font-size="3.7" fill="#444" stroke="#444" stroke-width="0.12">U-266/70</text>
<rect x="17.54" y="206.21" width="3.32" height="17.99" fill="#a8aab8"/>
<line x1="19.20" y1="224.2" x2="19.20" y2="225.4" stroke="#444" stroke-width="0.5"/>
<text transform="translate(19.60,226.2) rotate(-55)" text-anchor="end" font-family="Liberation Sans, sans-serif" font-size="3.7" fill="#444" stroke="#444" stroke-width="0.12">RPMI-8226</text>
<rect x="21.32" y="212.47" width="3.32" height="11.73" fill="#f5d020"/>
<line x1="22.98" y1="224.2" x2="22.98" y2="225.4" stroke="#444" stroke-width="0.5"/>
<text transform="translate(23.38,226.2) rotate(-55)" text-anchor="end" font-family="Liberation Sans, sans-serif" font-size="3.7" fill="#444" stroke="#444" stroke-width="0.12">Karpas-707</text>
<rect x="25.09" y="213.64" width="3.32" height="10.56" fill="#a01818"/>
<line x1="26.75" y1="224.2" x2="26.75" y2="225.4" stroke="#444" stroke-width="0.5"/>
<text transform="translate(27.15,226.2) rotate(-55)" text-anchor="end" font-family="Liberation Sans, sans-serif" font-size="3.7" fill="#444" stroke="#444" stroke-width="0.12">SK-MEL-30</text>
<rect x="28.86" y="214.42" width="3.32" height="9.78" fill="#f5d020"/>
<line x1="30.52" y1="224.2" x2="30.52" y2="225.4" stroke="#444" stroke-width="0.5"/>
<text transform="translate(30.92,226.2) rotate(-55)" text-anchor="end" font-family="Liberation Sans, sans-serif" font-size="3.7" fill="#444" stroke="#444" stroke-width="0.12">HMC-1</text>
<rect x="32.63" y="215.60" width="3.32" height="8.60" fill="#9dd3e8"/>
<line x1="34.29" y1="224.2" x2="34.29" y2="225.4" stroke="#444" stroke-width="0.5"/>
<text transform="translate(34.69,226.2) rotate(-55)" text-anchor="end" font-family="Liberation Sans, sans-serif" font-size="3.7" fill="#444" stroke="#444" stroke-width="0.12">PC-3</text>
<rect x="36.41" y="217.94" width="3.32" height="6.26" fill="#a81c28"/>
<line x1="38.07" y1="224.2" x2="38.07" y2="225.4" stroke="#444" stroke-width="0.5"/>
<text transform="translate(38.47,226.2) rotate(-55)" text-anchor="end" font-family="Liberation Sans, sans-serif" font-size="3.7" fill="#444" stroke="#444" stroke-width="0.12">HDLM-2</text>
<rect x="40.18" y="218.33" width="3.32" height="5.87" fill="#f6c8b8"/>
<line x1="41.84" y1="224.2" x2="41.84" y2="225.4" stroke="#444" stroke-width="0.5"/>
<text transform="translate(42.24,226.2) rotate(-55)" text-anchor="end" font-family="Liberation Sans, sans-serif" font-size="3.7" fill="#444" stroke="#444" stroke-width="0.12">BEWO</text>
<rect x="43.95" y="218.33" width="3.32" height="5.87" fill="#6cc070"/>
<line x1="45.61" y1="224.2" x2="45.61" y2="225.4" stroke="#444" stroke-width="0.5"/>
<text transform="translate(46.01,226.2) rotate(-55)" text-anchor="end" font-family="Liberation Sans, sans-serif" font-size="3.7" fill="#444" stroke="#444" stroke-width="0.12">SCLC-21H</text>
<rect x="47.72" y="218.92" width="3.32" height="5.28" fill="#f8c8d8"/>
<line x1="49.38" y1="224.2" x2="49.38" y2="225.4" stroke="#444" stroke-width="0.5"/>
<text transform="translate(49.78,226.2) rotate(-55)" text-anchor="end" font-family="Liberation Sans, sans-serif" font-size="3.7" fill="#444" stroke="#444" stroke-width="0.12">CAPAN-2</text>
<rect x="51.50" y="219.90" width="3.32" height="4.30" fill="#f4a8a8"/>
<line x1="53.16" y1="224.2" x2="53.16" y2="225.4" stroke="#444" stroke-width="0.5"/>
<text transform="translate(53.56,226.2) rotate(-55)" text-anchor="end" font-family="Liberation Sans, sans-serif" font-size="3.7" fill="#444" stroke="#444" stroke-width="0.12">U-2197</text>
<rect x="55.27" y="219.51" width="3.32" height="4.69" fill="#8b1a1a"/>
<line x1="56.93" y1="224.2" x2="56.93" y2="225.4" stroke="#444" stroke-width="0.5"/>
<text transform="translate(57.33,226.2) rotate(-55)" text-anchor="end" font-family="Liberation Sans, sans-serif" font-size="3.7" fill="#444" stroke="#444" stroke-width="0.12">NTERA-2</text>
<rect x="59.04" y="220.02" width="3.32" height="4.18" fill="#f4b0c0"/>
<line x1="60.70" y1="224.2" x2="60.70" y2="225.4" stroke="#444" stroke-width="0.5"/>
<text transform="translate(61.10,226.2) rotate(-55)" text-anchor="end" font-family="Liberation Sans, sans-serif" font-size="3.7" fill="#444" stroke="#444" stroke-width="0.12">RT4</text>
<rect x="62.81" y="218.73" width="3.32" height="5.47" fill="#f5c830"/>
<line x1="64.47" y1="224.2" x2="64.47" y2="225.4" stroke="#444" stroke-width="0.5"/>
<text transform="translate(64.87,226.2) rotate(-55)" text-anchor="end" font-family="Liberation Sans, sans-serif" font-size="3.7" fill="#444" stroke="#444" stroke-width="0.12">HEK 293</text>
<rect x="66.59" y="219.12" width="3.32" height="5.08" fill="#f0c850"/>
<line x1="68.25" y1="224.2" x2="68.25" y2="225.4" stroke="#444" stroke-width="0.5"/>
<text transform="translate(68.65,226.2) rotate(-55)" text-anchor="end" font-family="Liberation Sans, sans-serif" font-size="3.7" fill="#444" stroke="#444" stroke-width="0.12">LHCN-M2</text>
<rect x="70.36" y="220.68" width="3.32" height="3.52" fill="#70b870"/>
<line x1="72.02" y1="224.2" x2="72.02" y2="225.4" stroke="#444" stroke-width="0.5"/>
<text transform="translate(72.42,226.2) rotate(-55)" text-anchor="end" font-family="Liberation Sans, sans-serif" font-size="3.7" fill="#444" stroke="#444" stroke-width="0.12">SH-SY5Y</text>
<rect x="74.13" y="221.07" width="3.32" height="3.13" fill="#78c070"/>
<line x1="75.79" y1="224.2" x2="75.79" y2="225.4" stroke="#444" stroke-width="0.5"/>
<text transform="translate(76.19,226.2) rotate(-55)" text-anchor="end" font-family="Liberation Sans, sans-serif" font-size="3.7" fill="#444" stroke="#444" stroke-width="0.12">HaCaT</text>
<rect x="77.90" y="221.46" width="3.32" height="2.74" fill="#e8c8e0"/>
<line x1="79.56" y1="224.2" x2="79.56" y2="225.4" stroke="#444" stroke-width="0.5"/>
<text transform="translate(79.96,226.2) rotate(-55)" text-anchor="end" font-family="Liberation Sans, sans-serif" font-size="3.7" fill="#444" stroke="#444" stroke-width="0.12">U-251 MG</text>
<rect x="81.68" y="221.46" width="3.32" height="2.74" fill="#a0a0a0"/>
<line x1="83.34" y1="224.2" x2="83.34" y2="225.4" stroke="#444" stroke-width="0.5"/>
<text transform="translate(83.74,226.2) rotate(-55)" text-anchor="end" font-family="Liberation Sans, sans-serif" font-size="3.7" fill="#444" stroke="#444" stroke-width="0.12">A-431</text>
<rect x="85.45" y="221.07" width="3.32" height="3.13" fill="#c8e070"/>
<line x1="87.11" y1="224.2" x2="87.11" y2="225.4" stroke="#444" stroke-width="0.5"/>
<text transform="translate(87.51,226.2) rotate(-55)" text-anchor="end" font-family="Liberation Sans, sans-serif" font-size="3.7" fill="#444" stroke="#444" stroke-width="0.12">AN3-CA</text>
<rect x="89.22" y="222.01" width="3.32" height="2.19" fill="#d0d0f0"/>
<line x1="90.88" y1="224.2" x2="90.88" y2="225.4" stroke="#444" stroke-width="0.5"/>
<text transform="translate(91.28,226.2) rotate(-55)" text-anchor="end" font-family="Liberation Sans, sans-serif" font-size="3.7" fill="#444" stroke="#444" stroke-width="0.12">Hep-G2</text>
<rect x="92.99" y="222.01" width="3.32" height="2.19" fill="#f8c0d0"/>
<line x1="94.65" y1="224.2" x2="94.65" y2="225.4" stroke="#444" stroke-width="0.5"/>
<text transform="translate(95.05,226.2) rotate(-55)" text-anchor="end" font-family="Liberation Sans, sans-serif" font-size="3.7" fill="#444" stroke="#444" stroke-width="0.12">JURKAT</text>
<rect x="96.77" y="222.44" width="3.32" height="1.76" fill="#e8e8f0"/>
<line x1="98.43" y1="224.2" x2="98.43" y2="225.4" stroke="#444" stroke-width="0.5"/>
<text transform="translate(98.83,226.2) rotate(-55)" text-anchor="end" font-family="Liberation Sans, sans-serif" font-size="3.7" fill="#444" stroke="#444" stroke-width="0.12">MOLT-4</text>
<rect x="100.54" y="221.85" width="3.32" height="2.35" fill="#3a8a6a"/>
<line x1="102.20" y1="224.2" x2="102.20" y2="225.4" stroke="#444" stroke-width="0.5"/>
<text transform="translate(102.60,226.2) rotate(-55)" text-anchor="end" font-family="Liberation Sans, sans-serif" font-size="3.7" fill="#444" stroke="#444" stroke-width="0.12">OE19</text>
<rect x="104.31" y="221.46" width="3.32" height="2.74" fill="#901818"/>
<line x1="105.97" y1="224.2" x2="105.97" y2="225.4" stroke="#444" stroke-width="0.5"/>
<text transform="translate(106.37,226.2) rotate(-55)" text-anchor="end" font-family="Liberation Sans, sans-serif" font-size="3.7" fill="#444" stroke="#444" stroke-width="0.12">T-47d</text>
<rect x="108.08" y="222.24" width="3.32" height="1.96" fill="#f0c0c8"/>
<line x1="109.74" y1="224.2" x2="109.74" y2="225.4" stroke="#444" stroke-width="0.5"/>
<text transform="translate(110.14,226.2) rotate(-55)" text-anchor="end" font-family="Liberation Sans, sans-serif" font-size="3.7" fill="#444" stroke="#444" stroke-width="0.12">HSkMC</text>
<rect x="111.86" y="222.44" width="3.32" height="1.76" fill="#d8d8f0"/>
<line x1="113.52" y1="224.2" x2="113.52" y2="225.4" stroke="#444" stroke-width="0.5"/>
<text transform="translate(113.92,226.2) rotate(-55)" text-anchor="end" font-family="Liberation Sans, sans-serif" font-size="3.7" fill="#444" stroke="#444" stroke-width="0.12">fHDF/TIG</text>
<rect x="115.63" y="222.56" width="3.32" height="1.64" fill="#a0b0a0"/>
<line x1="117.29" y1="224.2" x2="117.29" y2="225.4" stroke="#444" stroke-width="0.5"/>
<text transform="translate(117.69,226.2) rotate(-55)" text-anchor="end" font-family="Liberation Sans, sans-serif" font-size="3.7" fill="#444" stroke="#444" stroke-width="0.12">A549</text>
<rect x="119.40" y="222.64" width="3.32" height="1.56" fill="#90a890"/>
<line x1="121.06" y1="224.2" x2="121.06" y2="225.4" stroke="#444" stroke-width="0.5"/>
<text transform="translate(121.46,226.2) rotate(-55)" text-anchor="end" font-family="Liberation Sans, sans-serif" font-size="3.7" fill="#444" stroke="#444" stroke-width="0.12">HeLa</text>
<rect x="123.17" y="222.71" width="3.32" height="1.49" fill="#c0c8c0"/>
<line x1="124.83" y1="224.2" x2="124.83" y2="225.4" stroke="#444" stroke-width="0.5"/>
<text transform="translate(125.23,226.2) rotate(-55)" text-anchor="end" font-family="Liberation Sans, sans-serif" font-size="3.7" fill="#444" stroke="#444" stroke-width="0.12">K-562</text>
<rect x="126.95" y="222.79" width="3.32" height="1.41" fill="#e0f0d0"/>
<line x1="128.61" y1="224.2" x2="128.61" y2="225.4" stroke="#444" stroke-width="0.5"/>
<text transform="translate(129.01,226.2) rotate(-55)" text-anchor="end" font-family="Liberation Sans, sans-serif" font-size="3.7" fill="#444" stroke="#444" stroke-width="0.12">SiHa</text>
<rect x="130.72" y="222.87" width="3.32" height="1.33" fill="#a0b0a0"/>
<line x1="132.38" y1="224.2" x2="132.38" y2="225.4" stroke="#444" stroke-width="0.5"/>
<text transform="translate(132.78,226.2) rotate(-55)" text-anchor="end" font-family="Liberation Sans, sans-serif" font-size="3.7" fill="#444" stroke="#444" stroke-width="0.12">hTEC/SVTERT24-B</text>
<rect x="134.49" y="222.95" width="3.32" height="1.25" fill="#f0f0a0"/>
<line x1="136.15" y1="224.2" x2="136.15" y2="225.4" stroke="#444" stroke-width="0.5"/>
<text transform="translate(136.55,226.2) rotate(-55)" text-anchor="end" font-family="Liberation Sans, sans-serif" font-size="3.7" fill="#444" stroke="#444" stroke-width="0.12">REH</text>
<rect x="138.26" y="223.03" width="3.32" height="1.17" fill="#f8d0e0"/>
<line x1="139.92" y1="224.2" x2="139.92" y2="225.4" stroke="#444" stroke-width="0.5"/>
<text transform="translate(140.32,226.2) rotate(-55)" text-anchor="end" font-family="Liberation Sans, sans-serif" font-size="3.7" fill="#444" stroke="#444" stroke-width="0.12">HEL</text>
<rect x="142.04" y="223.11" width="3.32" height="1.09" fill="#90c890"/>
<line x1="143.70" y1="224.2" x2="143.70" y2="225.4" stroke="#444" stroke-width="0.5"/>
<text transform="translate(144.10,226.2) rotate(-55)" text-anchor="end" font-family="Liberation Sans, sans-serif" font-size="3.7" fill="#444" stroke="#444" stroke-width="0.12">U-937</text>
<rect x="145.81" y="223.18" width="3.32" height="1.02" fill="#e0e0e0"/>
<line x1="147.47" y1="224.2" x2="147.47" y2="225.4" stroke="#444" stroke-width="0.5"/>
<text transform="translate(147.87,226.2) rotate(-55)" text-anchor="end" font-family="Liberation Sans, sans-serif" font-size="3.7" fill="#444" stroke="#444" stroke-width="0.12">MCF7</text>
<rect x="149.58" y="223.26" width="3.32" height="0.94" fill="#f0c8a0"/>
<line x1="151.24" y1="224.2" x2="151.24" y2="225.4" stroke="#444" stroke-width="0.5"/>
<text transform="translate(151.64,226.2) rotate(-55)" text-anchor="end" font-family="Liberation Sans, sans-serif" font-size="3.7" fill="#444" stroke="#444" stroke-width="0.12">EFO-21</text>
<rect x="153.35" y="223.34" width="3.32" height="0.86" fill="#b8d8f0"/>
<line x1="155.01" y1="224.2" x2="155.01" y2="225.4" stroke="#444" stroke-width="0.5"/>
<text transform="translate(155.41,226.2) rotate(-55)" text-anchor="end" font-family="Liberation Sans, sans-serif" font-size="3.7" fill="#444" stroke="#444" stroke-width="0.12">RH-30</text>
<rect x="157.13" y="223.42" width="3.32" height="0.78" fill="#f8e8b0"/>
<line x1="158.79" y1="224.2" x2="158.79" y2="225.4" stroke="#444" stroke-width="0.5"/>
<text transform="translate(159.19,226.2) rotate(-55)" text-anchor="end" font-family="Liberation Sans, sans-serif" font-size="3.7" fill="#444" stroke="#444" stroke-width="0.12">GAMG</text>
<rect x="160.90" y="223.46" width="3.32" height="0.74" fill="#a9a9a9"/>
<line x1="162.56" y1="224.2" x2="162.56" y2="225.4" stroke="#444" stroke-width="0.5"/>
<text transform="translate(162.96,226.2) rotate(-55)" text-anchor="end" font-family="Liberation Sans, sans-serif" font-size="3.7" fill="#444" stroke="#444" stroke-width="0.12">Daudi</text>
<rect x="164.67" y="223.48" width="3.32" height="0.72" fill="#b0b0b8"/>
<line x1="166.33" y1="224.2" x2="166.33" y2="225.4" stroke="#444" stroke-width="0.5"/>
<text transform="translate(166.73,226.2) rotate(-55)" text-anchor="end" font-family="Liberation Sans, sans-serif" font-size="3.7" fill="#444" stroke="#444" stroke-width="0.12">HL-60</text>
<rect x="168.44" y="223.50" width="3.32" height="0.70" fill="#a8aab8"/>
<line x1="170.10" y1="224.2" x2="170.10" y2="225.4" stroke="#444" stroke-width="0.5"/>
<text transform="translate(170.50,226.2) rotate(-55)" text-anchor="end" font-family="Liberation Sans, sans-serif" font-size="3.7" fill="#444" stroke="#444" stroke-width="0.12">BJ hTERT+ SV40 Large T+</text>
<rect x="172.22" y="223.53" width="3.32" height="0.67" fill="#f5d020"/>
<line x1="173.88" y1="224.2" x2="173.88" y2="225.4" stroke="#444" stroke-width="0.5"/>
<text transform="translate(174.28,226.2) rotate(-55)" text-anchor="end" font-family="Liberation Sans, sans-serif" font-size="3.7" fill="#444" stroke="#444" stroke-width="0.12">NB-4</text>
<rect x="175.99" y="223.55" width="3.32" height="0.65" fill="#a01818"/>
<line x1="177.65" y1="224.2" x2="177.65" y2="225.4" stroke="#444" stroke-width="0.5"/>
<text transform="translate(178.05,226.2) rotate(-55)" text-anchor="end" font-family="Liberation Sans, sans-serif" font-size="3.7" fill="#444" stroke="#444" stroke-width="0.12">THP-1</text>
<rect x="179.76" y="223.57" width="3.32" height="0.63" fill="#f5d020"/>
<line x1="181.42" y1="224.2" x2="181.42" y2="225.4" stroke="#444" stroke-width="0.5"/>
<text transform="translate(181.82,226.2) rotate(-55)" text-anchor="end" font-family="Liberation Sans, sans-serif" font-size="3.7" fill="#444" stroke="#444" stroke-width="0.12">HAP1</text>
<rect x="183.53" y="223.60" width="3.32" height="0.60" fill="#9dd3e8"/>
<line x1="185.19" y1="224.2" x2="185.19" y2="225.4" stroke="#444" stroke-width="0.5"/>
<text transform="translate(185.59,226.2) rotate(-55)" text-anchor="end" font-family="Liberation Sans, sans-serif" font-size="3.7" fill="#444" stroke="#444" stroke-width="0.12">U-698</text>
<rect x="187.31" y="223.62" width="3.32" height="0.58" fill="#a81c28"/>
<line x1="188.97" y1="224.2" x2="188.97" y2="225.4" stroke="#444" stroke-width="0.5"/>
<text transform="translate(189.37,226.2) rotate(-55)" text-anchor="end" font-family="Liberation Sans, sans-serif" font-size="3.7" fill="#444" stroke="#444" stroke-width="0.12">BJ hTERT+ SV40 Large T+ RasG12V</text>
<rect x="191.08" y="223.64" width="3.32" height="0.56" fill="#f6c8b8"/>
<line x1="192.74" y1="224.2" x2="192.74" y2="225.4" stroke="#444" stroke-width="0.5"/>
<text transform="translate(193.14,226.2) rotate(-55)" text-anchor="end" font-family="Liberation Sans, sans-serif" font-size="3.7" fill="#444" stroke="#444" stroke-width="0.12">hTERT-HME1</text>
<rect x="194.85" y="223.67" width="3.32" height="0.53" fill="#6cc070"/>
<line x1="196.51" y1="224.2" x2="196.51" y2="225.4" stroke="#444" stroke-width="0.5"/>
<text transform="translate(196.91,226.2) rotate(-55)" text-anchor="end" font-family="Liberation Sans, sans-serif" font-size="3.7" fill="#444" stroke="#444" stroke-width="0.12">HBEC3-KT</text>
<rect x="198.62" y="223.69" width="3.32" height="0.51" fill="#f8c8d8"/>
<line x1="200.28" y1="224.2" x2="200.28" y2="225.4" stroke="#444" stroke-width="0.5"/>
<text transform="translate(200.68,226.2) rotate(-55)" text-anchor="end" font-family="Liberation Sans, sans-serif" font-size="3.7" fill="#444" stroke="#444" stroke-width="0.12">BJ</text>
<rect x="202.40" y="223.72" width="3.32" height="0.48" fill="#f4a8a8"/>
<line x1="204.06" y1="224.2" x2="204.06" y2="225.4" stroke="#444" stroke-width="0.5"/>
<text transform="translate(204.46,226.2) rotate(-55)" text-anchor="end" font-family="Liberation Sans, sans-serif" font-size="3.7" fill="#444" stroke="#444" stroke-width="0.12">ASC TERT</text>
<rect x="206.17" y="223.74" width="3.32" height="0.46" fill="#8b1a1a"/>
<line x1="207.83" y1="224.2" x2="207.83" y2="225.4" stroke="#444" stroke-width="0.5"/>
<text transform="translate(208.23,226.2) rotate(-55)" text-anchor="end" font-family="Liberation Sans, sans-serif" font-size="3.7" fill="#444" stroke="#444" stroke-width="0.12">TIME</text>
<rect x="209.94" y="223.76" width="3.32" height="0.44" fill="#f4b0c0"/>
<line x1="211.60" y1="224.2" x2="211.60" y2="225.4" stroke="#444" stroke-width="0.5"/>
<text transform="translate(212.00,226.2) rotate(-55)" text-anchor="end" font-family="Liberation Sans, sans-serif" font-size="3.7" fill="#444" stroke="#444" stroke-width="0.12">HUVEC TERT2</text>
<rect x="213.71" y="223.79" width="3.32" height="0.41" fill="#f5c830"/>
<line x1="215.37" y1="224.2" x2="215.37" y2="225.4" stroke="#444" stroke-width="0.5"/>
<text transform="translate(215.77,226.2) rotate(-55)" text-anchor="end" font-family="Liberation Sans, sans-serif" font-size="3.7" fill="#444" stroke="#444" stroke-width="0.12">BLE-1</text>
<rect x="217.49" y="223.81" width="3.32" height="0.39" fill="#f0c850"/>
<line x1="219.15" y1="224.2" x2="219.15" y2="225.4" stroke="#444" stroke-width="0.5"/>
<text transform="translate(219.55,226.2) rotate(-55)" text-anchor="end" font-family="Liberation Sans, sans-serif" font-size="3.7" fill="#444" stroke="#444" stroke-width="0.12">U-2 OS</text>
<rect x="221.26" y="223.83" width="3.32" height="0.37" fill="#70b870"/>
<line x1="222.92" y1="224.2" x2="222.92" y2="225.4" stroke="#444" stroke-width="0.5"/>
<text transform="translate(223.32,226.2) rotate(-55)" text-anchor="end" font-family="Liberation Sans, sans-serif" font-size="3.7" fill="#444" stroke="#444" stroke-width="0.12">AF22</text>
<rect x="225.03" y="223.86" width="3.32" height="0.34" fill="#78c070"/>
<line x1="226.69" y1="224.2" x2="226.69" y2="225.4" stroke="#444" stroke-width="0.5"/>
<text transform="translate(227.09,226.2) rotate(-55)" text-anchor="end" font-family="Liberation Sans, sans-serif" font-size="3.7" fill="#444" stroke="#444" stroke-width="0.12">hTERT-RPE1</text>
<rect x="228.80" y="223.88" width="3.32" height="0.32" fill="#e8c8e0"/>
<line x1="230.46" y1="224.2" x2="230.46" y2="225.4" stroke="#444" stroke-width="0.5"/>
<text transform="translate(230.86,226.2) rotate(-55)" text-anchor="end" font-family="Liberation Sans, sans-serif" font-size="3.7" fill="#444" stroke="#444" stroke-width="0.12">C-4 I</text>
<rect x="232.58" y="223.90" width="3.32" height="0.30" fill="#a0a0a0"/>
<line x1="234.24" y1="224.2" x2="234.24" y2="225.4" stroke="#444" stroke-width="0.5"/>
<text transform="translate(234.64,226.2) rotate(-55)" text-anchor="end" font-family="Liberation Sans, sans-serif" font-size="3.7" fill="#444" stroke="#444" stroke-width="0.12">SCLC-21H</text>
<rect x="236.35" y="223.93" width="3.32" height="0.27" fill="#c8e070"/>
<line x1="238.01" y1="224.2" x2="238.01" y2="225.4" stroke="#444" stroke-width="0.5"/>
<text transform="translate(238.41,226.2) rotate(-55)" text-anchor="end" font-family="Liberation Sans, sans-serif" font-size="3.7" fill="#444" stroke="#444" stroke-width="0.12">HHSteC</text>
<rect x="240.12" y="223.95" width="3.32" height="0.25" fill="#d0d0f0"/>
<line x1="241.78" y1="224.2" x2="241.78" y2="225.4" stroke="#444" stroke-width="0.5"/>
<text transform="translate(242.18,226.2) rotate(-55)" text-anchor="end" font-family="Liberation Sans, sans-serif" font-size="3.7" fill="#444" stroke="#444" stroke-width="0.12">WM-115</text>
<rect x="243.89" y="223.97" width="3.32" height="0.23" fill="#f8c0d0"/>
<line x1="245.55" y1="224.2" x2="245.55" y2="225.4" stroke="#444" stroke-width="0.5"/>
<text transform="translate(245.95,226.2) rotate(-55)" text-anchor="end" font-family="Liberation Sans, sans-serif" font-size="3.7" fill="#444" stroke="#444" stroke-width="0.12">BLE-2</text>
<rect x="247.67" y="224.00" width="3.32" height="0.20" fill="#e8e8f0"/>
<line x1="249.33" y1="224.2" x2="249.33" y2="225.4" stroke="#444" stroke-width="0.5"/>
<text transform="translate(249.73,226.2) rotate(-55)" text-anchor="end" font-family="Liberation Sans, sans-serif" font-size="3.7" fill="#444" stroke="#444" stroke-width="0.12">CACO-2</text>
<rect x="251.44" y="224.02" width="3.32" height="0.18" fill="#3a8a6a"/>
<line x1="253.10" y1="224.2" x2="253.10" y2="225.4" stroke="#444" stroke-width="0.5"/>
<text transform="translate(253.50,226.2) rotate(-55)" text-anchor="end" font-family="Liberation Sans, sans-serif" font-size="3.7" fill="#444" stroke="#444" stroke-width="0.12">U-138</text>
<rect x="255.21" y="224.04" width="3.32" height="0.16" fill="#901818"/>
<line x1="256.87" y1="224.2" x2="256.87" y2="225.4" stroke="#444" stroke-width="0.5"/>
<text transform="translate(257.27,226.2) rotate(-55)" text-anchor="end" font-family="Liberation Sans, sans-serif" font-size="3.7" fill="#444" stroke="#444" stroke-width="0.12">ASC52</text>
<rect x="258.98" y="224.07" width="3.32" height="0.13" fill="#f0c0c8"/>
<line x1="260.64" y1="224.2" x2="260.64" y2="225.4" stroke="#444" stroke-width="0.5"/>
<text transform="translate(261.04,226.2) rotate(-55)" text-anchor="end" font-family="Liberation Sans, sans-serif" font-size="3.7" fill="#444" stroke="#444" stroke-width="0.12">HaCaT</text>
<rect x="262.76" y="224.09" width="3.32" height="0.11" fill="#d8d8f0"/>
<line x1="264.41" y1="224.2" x2="264.41" y2="225.4" stroke="#444" stroke-width="0.5"/>
<text transform="translate(264.81,226.2) rotate(-55)" text-anchor="end" font-family="Liberation Sans, sans-serif" font-size="3.7" fill="#444" stroke="#444" stroke-width="0.12">RWPE-2</text>
<rect x="266.53" y="224.10" width="3.32" height="0.10" fill="#a0b0a0"/>
<line x1="268.19" y1="224.2" x2="268.19" y2="225.4" stroke="#444" stroke-width="0.5"/>
<text transform="translate(268.59,226.2) rotate(-55)" text-anchor="end" font-family="Liberation Sans, sans-serif" font-size="3.7" fill="#444" stroke="#444" stroke-width="0.12">Caco</text>
<rect x="-10.2" y="-3.6" width="11.6" height="4.9" fill="none" stroke="#d02828" stroke-width="0.6" transform="translate(34.69,226.2) rotate(-55)"/>
<text x="290.6" y="141.5" font-family="Liberation Sans, sans-serif" font-weight="bold" font-size="7.8">E</text>
<line x1="306.2" y1="157.6" x2="306.2" y2="223.1" stroke="#111" stroke-width="0.9"/>
<line x1="306.2" y1="223.1" x2="397" y2="223.1" stroke="#111" stroke-width="0.9"/>
<line x1="304.7" y1="223.10" x2="306.2" y2="223.10" stroke="#111" stroke-width="0.6"/>
<text x="303.8" y="224.60" text-anchor="end" font-family="Liberation Sans, sans-serif" font-weight="bold" font-size="4.2" fill="#111">0</text>
<line x1="304.7" y1="210.04" x2="306.2" y2="210.04" stroke="#111" stroke-width="0.6"/>
<text x="303.8" y="211.54" text-anchor="end" font-family="Liberation Sans, sans-serif" font-weight="bold" font-size="4.2" fill="#111">1</text>
<line x1="304.7" y1="196.98" x2="306.2" y2="196.98" stroke="#111" stroke-width="0.6"/>
<text x="303.8" y="198.48" text-anchor="end" font-family="Liberation Sans, sans-serif" font-weight="bold" font-size="4.2" fill="#111">2</text>
<line x1="304.7" y1="183.92" x2="306.2" y2="183.92" stroke="#111" stroke-width="0.6"/>
<text x="303.8" y="185.42" text-anchor="end" font-family="Liberation Sans, sans-serif" font-weight="bold" font-size="4.2" fill="#111">3</text>
<line x1="304.7" y1="170.86" x2="306.2" y2="170.86" stroke="#111" stroke-width="0.6"/>
<text x="303.8" y="172.36" text-anchor="end" font-family="Liberation Sans, sans-serif" font-weight="bold" font-size="4.2" fill="#111">4</text>
<line x1="304.7" y1="157.80" x2="306.2" y2="157.80" stroke="#111" stroke-width="0.6"/>
<text x="303.8" y="159.30" text-anchor="end" font-family="Liberation Sans, sans-serif" font-weight="bold" font-size="4.2" fill="#111">5</text>
<text transform="translate(296.2,184.7) rotate(-90)" text-anchor="middle" font-family="Liberation Serif, serif" font-size="6" fill="#111">Relative expression of RNF157</text>
<rect x="312.5" y="210.20" width="9.20" height="12.90" fill="#000000" stroke="#222" stroke-width="0.6"/>
<line x1="317.1" y1="210.20" x2="317.1" y2="208.30" stroke="#222" stroke-width="0.5"/>
<line x1="315.40000000000003" y1="208.30" x2="318.8" y2="208.30" stroke="#222" stroke-width="0.5"/>
<rect x="330.1" y="167.10" width="9.50" height="56.00" fill="#c87aa2" stroke="#222" stroke-width="0.6"/>
<line x1="334.85" y1="167.10" x2="334.85" y2="161.40" stroke="#222" stroke-width="0.5"/>
<line x1="333.15000000000003" y1="161.40" x2="336.55" y2="161.40" stroke="#222" stroke-width="0.5"/>
<text x="333.25" y="163.00" text-anchor="middle" font-family="Liberation Sans, sans-serif" font-weight="bold" font-size="6.5" fill="#222">*</text>
<text x="336.45" y="163.00" text-anchor="middle" font-family="Liberation Sans, sans-serif" font-weight="bold" font-size="6.5" fill="#222">*</text>
<rect x="348.4" y="191.10" width="9.10" height="32.00" fill="#e2b0b0" stroke="#222" stroke-width="0.6"/>
<line x1="352.95" y1="191.10" x2="352.95" y2="187.90" stroke="#222" stroke-width="0.5"/>
<line x1="351.25" y1="187.90" x2="354.65" y2="187.90" stroke="#222" stroke-width="0.5"/>
<text x="351.35" y="189.20" text-anchor="middle" font-family="Liberation Sans, sans-serif" font-weight="bold" font-size="6.5" fill="#222">*</text>
<text x="354.55" y="189.20" text-anchor="middle" font-family="Liberation Sans, sans-serif" font-weight="bold" font-size="6.5" fill="#222">*</text>
<rect x="366.3" y="183.10" width="9.60" height="40.00" fill="#a51a4e" stroke="#222" stroke-width="0.6"/>
<line x1="371.1" y1="183.10" x2="371.1" y2="178.80" stroke="#222" stroke-width="0.5"/>
<line x1="369.40000000000003" y1="178.80" x2="372.8" y2="178.80" stroke="#222" stroke-width="0.5"/>
<text x="369.50" y="179.90" text-anchor="middle" font-family="Liberation Sans, sans-serif" font-weight="bold" font-size="6.5" fill="#222">*</text>
<text x="372.70" y="179.90" text-anchor="middle" font-family="Liberation Sans, sans-serif" font-weight="bold" font-size="6.5" fill="#222">*</text>
<rect x="384.4" y="195.00" width="9.60" height="28.10" fill="#177c9a" stroke="#222" stroke-width="0.6"/>
<line x1="389.2" y1="195.00" x2="389.2" y2="192.60" stroke="#222" stroke-width="0.5"/>
<line x1="387.5" y1="192.60" x2="390.9" y2="192.60" stroke="#222" stroke-width="0.5"/>
<text x="387.60" y="193.90" text-anchor="middle" font-family="Liberation Sans, sans-serif" font-weight="bold" font-size="6.5" fill="#222">*</text>
<text x="390.80" y="193.90" text-anchor="middle" font-family="Liberation Sans, sans-serif" font-weight="bold" font-size="6.5" fill="#222">*</text>
<defs><linearGradient id="wb" x1="0" y1="0" x2="0" y2="1"><stop offset="0" stop-color="#f4f4f4"/><stop offset="0.5" stop-color="#fbfbfb"/><stop offset="1" stop-color="#ececec"/></linearGradient><filter id="bl" x="-50%" y="-100%" width="200%" height="300%"><feGaussianBlur stdDeviation="0.6"/></filter></defs>
<rect x="306.6" y="226.6" width="91.8" height="15.8" fill="url(#wb)" stroke="#555" stroke-width="0.7"/>
<rect x="306.6" y="245.3" width="91.8" height="15.3" fill="url(#wb)" stroke="#555" stroke-width="0.7"/>
<text x="284.5" y="237.1" font-family="Liberation Serif, serif" font-size="6.4" fill="#111">RNF157</text>
<text x="287.4" y="255.1" font-family="Liberation Serif, serif" font-size="6.4" fill="#111">β-actin</text>
<rect x="311.70" y="233.90" width="12.90" height="2.0" rx="1.0" fill="#111" fill-opacity="0.8" filter="url(#bl)"/>
<rect x="328.30" y="233.10" width="14.20" height="3.6" rx="1.8" fill="#111" fill-opacity="1" filter="url(#bl)"/>
<rect x="346.00" y="233.55" width="12.00" height="2.7" rx="1.35" fill="#111" fill-opacity="0.95" filter="url(#bl)"/>
<rect x="362.70" y="233.30" width="14.30" height="3.2" rx="1.6" fill="#111" fill-opacity="1" filter="url(#bl)"/>
<rect x="380.80" y="233.80" width="12.80" height="2.2" rx="1.1" fill="#111" fill-opacity="0.75" filter="url(#bl)"/>
<rect x="311.70" y="251.1" width="13.60" height="4.1" rx="2" fill="#0a0a0a" filter="url(#bl)"/>
<rect x="328.50" y="251.1" width="13.50" height="4.1" rx="2" fill="#0a0a0a" filter="url(#bl)"/>
<rect x="346.00" y="251.1" width="13.60" height="4.1" rx="2" fill="#0a0a0a" filter="url(#bl)"/>
<rect x="362.70" y="251.1" width="14.30" height="4.1" rx="2" fill="#0a0a0a" filter="url(#bl)"/>
<rect x="380.00" y="251.1" width="14.40" height="4.1" rx="2" fill="#0a0a0a" filter="url(#bl)"/>
<text transform="translate(316.60,267.2) rotate(-33)" text-anchor="end" font-family="Liberation Serif, serif" font-size="6.3" fill="#111" stroke="#111" stroke-width="0.1">RWPE-1</text>
<text transform="translate(334.60,267.2) rotate(-33)" text-anchor="end" font-family="Liberation Serif, serif" font-size="6.3" fill="#111" stroke="#111" stroke-width="0.1">PC-3</text>
<text transform="translate(352.80,267.2) rotate(-33)" text-anchor="end" font-family="Liberation Serif, serif" font-size="6.3" fill="#111" stroke="#111" stroke-width="0.1">DU145</text>
<text transform="translate(370.50,267.2) rotate(-33)" text-anchor="end" font-family="Liberation Serif, serif" font-size="6.3" fill="#111" stroke="#111" stroke-width="0.1">VCaP</text>
<text transform="translate(388.85,267.2) rotate(-33)" text-anchor="end" font-family="Liberation Serif, serif" font-size="6.3" fill="#111" stroke="#111" stroke-width="0.1">LNCaP</text>
</svg></body></html>
